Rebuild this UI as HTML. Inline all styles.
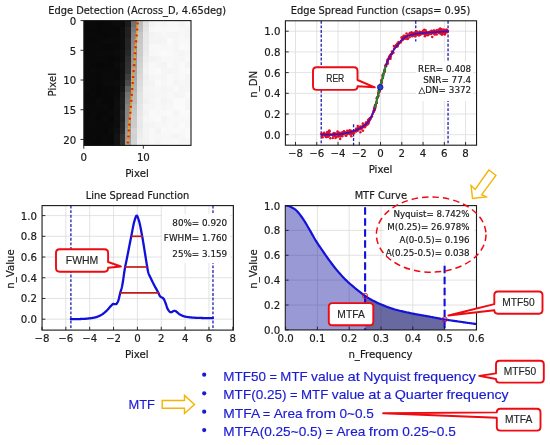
<!DOCTYPE html>
<html lang="en"><head><meta charset="utf-8"><title>MTF analysis</title>
<style>html,body{margin:0;padding:0;background:#fff;}svg{display:block;filter:blur(.35px)}.dj{font-family:'DejaVu Sans','Liberation Sans',sans-serif;fill:#1a1a1a;stroke:#1a1a1a;stroke-width:.18px}.ls{font-family:'Liberation Sans','DejaVu Sans',sans-serif}.bl{stroke:#1a1ad2;stroke-width:.15px}.cl{stroke:#262626;stroke-width:.15px}</style>
</head><body>
<svg width="550" height="445" viewBox="0 0 550 445">
<rect x="0" y="0" width="550" height="445" fill="#ffffff"/>
<g shape-rendering="crispEdges">
<rect x="83.8" y="20.6" width="107.2" height="124.8" fill="#101010"/>
<rect x="83.8" y="20.6" width="6.26" height="6.24" fill="#090909"/>
<rect x="89.76" y="20.6" width="6.26" height="6.24" fill="#090909"/>
<rect x="95.71" y="20.6" width="6.26" height="6.24" fill="#080808"/>
<rect x="101.67" y="20.6" width="6.26" height="6.24" fill="#090909"/>
<rect x="107.62" y="20.6" width="6.26" height="6.24" fill="#0a0a0a"/>
<rect x="113.58" y="20.6" width="6.26" height="6.24" fill="#0b0b0b"/>
<rect x="119.53" y="20.6" width="6.26" height="6.24" fill="#0b0b0b"/>
<rect x="125.49" y="20.6" width="6.26" height="6.24" fill="#1b1b1b"/>
<rect x="131.44" y="20.6" width="6.26" height="6.24" fill="#717171"/>
<rect x="137.4" y="20.6" width="6.26" height="6.24" fill="#bbbbbb"/>
<rect x="143.36" y="20.6" width="6.26" height="6.24" fill="#e0e0e0"/>
<rect x="149.31" y="20.6" width="6.26" height="6.24" fill="#f3f3f3"/>
<rect x="155.27" y="20.6" width="6.26" height="6.24" fill="#f7f7f7"/>
<rect x="161.22" y="20.6" width="6.26" height="6.24" fill="#f5f5f5"/>
<rect x="167.18" y="20.6" width="6.26" height="6.24" fill="#f8f8f8"/>
<rect x="173.13" y="20.6" width="6.26" height="6.24" fill="#f8f8f8"/>
<rect x="179.09" y="20.6" width="6.26" height="6.24" fill="#f4f4f4"/>
<rect x="185.04" y="20.6" width="6.26" height="6.24" fill="#f8f8f8"/>
<rect x="83.8" y="26.54" width="6.26" height="6.24" fill="#080808"/>
<rect x="89.76" y="26.54" width="6.26" height="6.24" fill="#080808"/>
<rect x="95.71" y="26.54" width="6.26" height="6.24" fill="#080808"/>
<rect x="101.67" y="26.54" width="6.26" height="6.24" fill="#090909"/>
<rect x="107.62" y="26.54" width="6.26" height="6.24" fill="#090909"/>
<rect x="113.58" y="26.54" width="6.26" height="6.24" fill="#080808"/>
<rect x="119.53" y="26.54" width="6.26" height="6.24" fill="#0d0d0d"/>
<rect x="125.49" y="26.54" width="6.26" height="6.24" fill="#212121"/>
<rect x="131.44" y="26.54" width="6.26" height="6.24" fill="#7b7b7b"/>
<rect x="137.4" y="26.54" width="6.26" height="6.24" fill="#bebebe"/>
<rect x="143.36" y="26.54" width="6.26" height="6.24" fill="#e4e4e4"/>
<rect x="149.31" y="26.54" width="6.26" height="6.24" fill="#f7f7f7"/>
<rect x="155.27" y="26.54" width="6.26" height="6.24" fill="#f9f9f9"/>
<rect x="161.22" y="26.54" width="6.26" height="6.24" fill="#f8f8f8"/>
<rect x="167.18" y="26.54" width="6.26" height="6.24" fill="#f9f9f9"/>
<rect x="173.13" y="26.54" width="6.26" height="6.24" fill="#f9f9f9"/>
<rect x="179.09" y="26.54" width="6.26" height="6.24" fill="#f7f7f7"/>
<rect x="185.04" y="26.54" width="6.26" height="6.24" fill="#f5f5f5"/>
<rect x="83.8" y="32.49" width="6.26" height="6.24" fill="#090909"/>
<rect x="89.76" y="32.49" width="6.26" height="6.24" fill="#090909"/>
<rect x="95.71" y="32.49" width="6.26" height="6.24" fill="#080808"/>
<rect x="101.67" y="32.49" width="6.26" height="6.24" fill="#080808"/>
<rect x="107.62" y="32.49" width="6.26" height="6.24" fill="#090909"/>
<rect x="113.58" y="32.49" width="6.26" height="6.24" fill="#090909"/>
<rect x="119.53" y="32.49" width="6.26" height="6.24" fill="#0d0d0d"/>
<rect x="125.49" y="32.49" width="6.26" height="6.24" fill="#202020"/>
<rect x="131.44" y="32.49" width="6.26" height="6.24" fill="#838383"/>
<rect x="137.4" y="32.49" width="6.26" height="6.24" fill="#c6c6c6"/>
<rect x="143.36" y="32.49" width="6.26" height="6.24" fill="#e7e7e7"/>
<rect x="149.31" y="32.49" width="6.26" height="6.24" fill="#f3f3f3"/>
<rect x="155.27" y="32.49" width="6.26" height="6.24" fill="#f5f5f5"/>
<rect x="161.22" y="32.49" width="6.26" height="6.24" fill="#f7f7f7"/>
<rect x="167.18" y="32.49" width="6.26" height="6.24" fill="#f5f5f5"/>
<rect x="173.13" y="32.49" width="6.26" height="6.24" fill="#f5f5f5"/>
<rect x="179.09" y="32.49" width="6.26" height="6.24" fill="#f7f7f7"/>
<rect x="185.04" y="32.49" width="6.26" height="6.24" fill="#f5f5f5"/>
<rect x="83.8" y="38.43" width="6.26" height="6.24" fill="#080808"/>
<rect x="89.76" y="38.43" width="6.26" height="6.24" fill="#080808"/>
<rect x="95.71" y="38.43" width="6.26" height="6.24" fill="#090909"/>
<rect x="101.67" y="38.43" width="6.26" height="6.24" fill="#0a0a0a"/>
<rect x="107.62" y="38.43" width="6.26" height="6.24" fill="#0a0a0a"/>
<rect x="113.58" y="38.43" width="6.26" height="6.24" fill="#0a0a0a"/>
<rect x="119.53" y="38.43" width="6.26" height="6.24" fill="#0d0d0d"/>
<rect x="125.49" y="38.43" width="6.26" height="6.24" fill="#252525"/>
<rect x="131.44" y="38.43" width="6.26" height="6.24" fill="#888888"/>
<rect x="137.4" y="38.43" width="6.26" height="6.24" fill="#c8c8c8"/>
<rect x="143.36" y="38.43" width="6.26" height="6.24" fill="#e8e8e8"/>
<rect x="149.31" y="38.43" width="6.26" height="6.24" fill="#f4f4f4"/>
<rect x="155.27" y="38.43" width="6.26" height="6.24" fill="#f4f4f4"/>
<rect x="161.22" y="38.43" width="6.26" height="6.24" fill="#f5f5f5"/>
<rect x="167.18" y="38.43" width="6.26" height="6.24" fill="#fafafa"/>
<rect x="173.13" y="38.43" width="6.26" height="6.24" fill="#f6f6f6"/>
<rect x="179.09" y="38.43" width="6.26" height="6.24" fill="#f8f8f8"/>
<rect x="185.04" y="38.43" width="6.26" height="6.24" fill="#f8f8f8"/>
<rect x="83.8" y="44.37" width="6.26" height="6.24" fill="#090909"/>
<rect x="89.76" y="44.37" width="6.26" height="6.24" fill="#090909"/>
<rect x="95.71" y="44.37" width="6.26" height="6.24" fill="#090909"/>
<rect x="101.67" y="44.37" width="6.26" height="6.24" fill="#080808"/>
<rect x="107.62" y="44.37" width="6.26" height="6.24" fill="#080808"/>
<rect x="113.58" y="44.37" width="6.26" height="6.24" fill="#090909"/>
<rect x="119.53" y="44.37" width="6.26" height="6.24" fill="#0d0d0d"/>
<rect x="125.49" y="44.37" width="6.26" height="6.24" fill="#242424"/>
<rect x="131.44" y="44.37" width="6.26" height="6.24" fill="#8c8c8c"/>
<rect x="137.4" y="44.37" width="6.26" height="6.24" fill="#cbcbcb"/>
<rect x="143.36" y="44.37" width="6.26" height="6.24" fill="#e9e9e9"/>
<rect x="149.31" y="44.37" width="6.26" height="6.24" fill="#f8f8f8"/>
<rect x="155.27" y="44.37" width="6.26" height="6.24" fill="#f8f8f8"/>
<rect x="161.22" y="44.37" width="6.26" height="6.24" fill="#f7f7f7"/>
<rect x="167.18" y="44.37" width="6.26" height="6.24" fill="#f8f8f8"/>
<rect x="173.13" y="44.37" width="6.26" height="6.24" fill="#f6f6f6"/>
<rect x="179.09" y="44.37" width="6.26" height="6.24" fill="#fafafa"/>
<rect x="185.04" y="44.37" width="6.26" height="6.24" fill="#f9f9f9"/>
<rect x="83.8" y="50.31" width="6.26" height="6.24" fill="#090909"/>
<rect x="89.76" y="50.31" width="6.26" height="6.24" fill="#090909"/>
<rect x="95.71" y="50.31" width="6.26" height="6.24" fill="#0a0a0a"/>
<rect x="101.67" y="50.31" width="6.26" height="6.24" fill="#0a0a0a"/>
<rect x="107.62" y="50.31" width="6.26" height="6.24" fill="#0a0a0a"/>
<rect x="113.58" y="50.31" width="6.26" height="6.24" fill="#0b0b0b"/>
<rect x="119.53" y="50.31" width="6.26" height="6.24" fill="#0f0f0f"/>
<rect x="125.49" y="50.31" width="6.26" height="6.24" fill="#282828"/>
<rect x="131.44" y="50.31" width="6.26" height="6.24" fill="#949494"/>
<rect x="137.4" y="50.31" width="6.26" height="6.24" fill="#cccccc"/>
<rect x="143.36" y="50.31" width="6.26" height="6.24" fill="#ebebeb"/>
<rect x="149.31" y="50.31" width="6.26" height="6.24" fill="#f7f7f7"/>
<rect x="155.27" y="50.31" width="6.26" height="6.24" fill="#f8f8f8"/>
<rect x="161.22" y="50.31" width="6.26" height="6.24" fill="#fafafa"/>
<rect x="167.18" y="50.31" width="6.26" height="6.24" fill="#f9f9f9"/>
<rect x="173.13" y="50.31" width="6.26" height="6.24" fill="#f7f7f7"/>
<rect x="179.09" y="50.31" width="6.26" height="6.24" fill="#f5f5f5"/>
<rect x="185.04" y="50.31" width="6.26" height="6.24" fill="#f7f7f7"/>
<rect x="83.8" y="56.26" width="6.26" height="6.24" fill="#0a0a0a"/>
<rect x="89.76" y="56.26" width="6.26" height="6.24" fill="#090909"/>
<rect x="95.71" y="56.26" width="6.26" height="6.24" fill="#090909"/>
<rect x="101.67" y="56.26" width="6.26" height="6.24" fill="#090909"/>
<rect x="107.62" y="56.26" width="6.26" height="6.24" fill="#080808"/>
<rect x="113.58" y="56.26" width="6.26" height="6.24" fill="#090909"/>
<rect x="119.53" y="56.26" width="6.26" height="6.24" fill="#0e0e0e"/>
<rect x="125.49" y="56.26" width="6.26" height="6.24" fill="#2e2e2e"/>
<rect x="131.44" y="56.26" width="6.26" height="6.24" fill="#999999"/>
<rect x="137.4" y="56.26" width="6.26" height="6.24" fill="#cfcfcf"/>
<rect x="143.36" y="56.26" width="6.26" height="6.24" fill="#eeeeee"/>
<rect x="149.31" y="56.26" width="6.26" height="6.24" fill="#f3f3f3"/>
<rect x="155.27" y="56.26" width="6.26" height="6.24" fill="#f5f5f5"/>
<rect x="161.22" y="56.26" width="6.26" height="6.24" fill="#f8f8f8"/>
<rect x="167.18" y="56.26" width="6.26" height="6.24" fill="#f8f8f8"/>
<rect x="173.13" y="56.26" width="6.26" height="6.24" fill="#f7f7f7"/>
<rect x="179.09" y="56.26" width="6.26" height="6.24" fill="#f6f6f6"/>
<rect x="185.04" y="56.26" width="6.26" height="6.24" fill="#f8f8f8"/>
<rect x="83.8" y="62.2" width="6.26" height="6.24" fill="#0a0a0a"/>
<rect x="89.76" y="62.2" width="6.26" height="6.24" fill="#080808"/>
<rect x="95.71" y="62.2" width="6.26" height="6.24" fill="#070707"/>
<rect x="101.67" y="62.2" width="6.26" height="6.24" fill="#080808"/>
<rect x="107.62" y="62.2" width="6.26" height="6.24" fill="#080808"/>
<rect x="113.58" y="62.2" width="6.26" height="6.24" fill="#0b0b0b"/>
<rect x="119.53" y="62.2" width="6.26" height="6.24" fill="#111111"/>
<rect x="125.49" y="62.2" width="6.26" height="6.24" fill="#313131"/>
<rect x="131.44" y="62.2" width="6.26" height="6.24" fill="#9b9b9b"/>
<rect x="137.4" y="62.2" width="6.26" height="6.24" fill="#d3d3d3"/>
<rect x="143.36" y="62.2" width="6.26" height="6.24" fill="#f1f1f1"/>
<rect x="149.31" y="62.2" width="6.26" height="6.24" fill="#f8f8f8"/>
<rect x="155.27" y="62.2" width="6.26" height="6.24" fill="#f6f6f6"/>
<rect x="161.22" y="62.2" width="6.26" height="6.24" fill="#f4f4f4"/>
<rect x="167.18" y="62.2" width="6.26" height="6.24" fill="#f9f9f9"/>
<rect x="173.13" y="62.2" width="6.26" height="6.24" fill="#f6f6f6"/>
<rect x="179.09" y="62.2" width="6.26" height="6.24" fill="#f9f9f9"/>
<rect x="185.04" y="62.2" width="6.26" height="6.24" fill="#f5f5f5"/>
<rect x="83.8" y="68.14" width="6.26" height="6.24" fill="#090909"/>
<rect x="89.76" y="68.14" width="6.26" height="6.24" fill="#0a0a0a"/>
<rect x="95.71" y="68.14" width="6.26" height="6.24" fill="#090909"/>
<rect x="101.67" y="68.14" width="6.26" height="6.24" fill="#090909"/>
<rect x="107.62" y="68.14" width="6.26" height="6.24" fill="#0a0a0a"/>
<rect x="113.58" y="68.14" width="6.26" height="6.24" fill="#090909"/>
<rect x="119.53" y="68.14" width="6.26" height="6.24" fill="#101010"/>
<rect x="125.49" y="68.14" width="6.26" height="6.24" fill="#343434"/>
<rect x="131.44" y="68.14" width="6.26" height="6.24" fill="#a4a4a4"/>
<rect x="137.4" y="68.14" width="6.26" height="6.24" fill="#d5d5d5"/>
<rect x="143.36" y="68.14" width="6.26" height="6.24" fill="#f3f3f3"/>
<rect x="149.31" y="68.14" width="6.26" height="6.24" fill="#f8f8f8"/>
<rect x="155.27" y="68.14" width="6.26" height="6.24" fill="#fafafa"/>
<rect x="161.22" y="68.14" width="6.26" height="6.24" fill="#f6f6f6"/>
<rect x="167.18" y="68.14" width="6.26" height="6.24" fill="#f5f5f5"/>
<rect x="173.13" y="68.14" width="6.26" height="6.24" fill="#f6f6f6"/>
<rect x="179.09" y="68.14" width="6.26" height="6.24" fill="#f9f9f9"/>
<rect x="185.04" y="68.14" width="6.26" height="6.24" fill="#fafafa"/>
<rect x="83.8" y="74.09" width="6.26" height="6.24" fill="#090909"/>
<rect x="89.76" y="74.09" width="6.26" height="6.24" fill="#090909"/>
<rect x="95.71" y="74.09" width="6.26" height="6.24" fill="#080808"/>
<rect x="101.67" y="74.09" width="6.26" height="6.24" fill="#0a0a0a"/>
<rect x="107.62" y="74.09" width="6.26" height="6.24" fill="#0a0a0a"/>
<rect x="113.58" y="74.09" width="6.26" height="6.24" fill="#090909"/>
<rect x="119.53" y="74.09" width="6.26" height="6.24" fill="#111111"/>
<rect x="125.49" y="74.09" width="6.26" height="6.24" fill="#3f3f3f"/>
<rect x="131.44" y="74.09" width="6.26" height="6.24" fill="#a8a8a8"/>
<rect x="137.4" y="74.09" width="6.26" height="6.24" fill="#d9d9d9"/>
<rect x="143.36" y="74.09" width="6.26" height="6.24" fill="#f0f0f0"/>
<rect x="149.31" y="74.09" width="6.26" height="6.24" fill="#f6f6f6"/>
<rect x="155.27" y="74.09" width="6.26" height="6.24" fill="#f7f7f7"/>
<rect x="161.22" y="74.09" width="6.26" height="6.24" fill="#f5f5f5"/>
<rect x="167.18" y="74.09" width="6.26" height="6.24" fill="#f9f9f9"/>
<rect x="173.13" y="74.09" width="6.26" height="6.24" fill="#f7f7f7"/>
<rect x="179.09" y="74.09" width="6.26" height="6.24" fill="#f9f9f9"/>
<rect x="185.04" y="74.09" width="6.26" height="6.24" fill="#f6f6f6"/>
<rect x="83.8" y="80.03" width="6.26" height="6.24" fill="#0a0a0a"/>
<rect x="89.76" y="80.03" width="6.26" height="6.24" fill="#090909"/>
<rect x="95.71" y="80.03" width="6.26" height="6.24" fill="#080808"/>
<rect x="101.67" y="80.03" width="6.26" height="6.24" fill="#0a0a0a"/>
<rect x="107.62" y="80.03" width="6.26" height="6.24" fill="#0a0a0a"/>
<rect x="113.58" y="80.03" width="6.26" height="6.24" fill="#0c0c0c"/>
<rect x="119.53" y="80.03" width="6.26" height="6.24" fill="#131313"/>
<rect x="125.49" y="80.03" width="6.26" height="6.24" fill="#4b4b4b"/>
<rect x="131.44" y="80.03" width="6.26" height="6.24" fill="#aeaeae"/>
<rect x="137.4" y="80.03" width="6.26" height="6.24" fill="#dcdcdc"/>
<rect x="143.36" y="80.03" width="6.26" height="6.24" fill="#f2f2f2"/>
<rect x="149.31" y="80.03" width="6.26" height="6.24" fill="#f4f4f4"/>
<rect x="155.27" y="80.03" width="6.26" height="6.24" fill="#fafafa"/>
<rect x="161.22" y="80.03" width="6.26" height="6.24" fill="#f7f7f7"/>
<rect x="167.18" y="80.03" width="6.26" height="6.24" fill="#f9f9f9"/>
<rect x="173.13" y="80.03" width="6.26" height="6.24" fill="#f5f5f5"/>
<rect x="179.09" y="80.03" width="6.26" height="6.24" fill="#f7f7f7"/>
<rect x="185.04" y="80.03" width="6.26" height="6.24" fill="#f5f5f5"/>
<rect x="83.8" y="85.97" width="6.26" height="6.24" fill="#0a0a0a"/>
<rect x="89.76" y="85.97" width="6.26" height="6.24" fill="#080808"/>
<rect x="95.71" y="85.97" width="6.26" height="6.24" fill="#070707"/>
<rect x="101.67" y="85.97" width="6.26" height="6.24" fill="#080808"/>
<rect x="107.62" y="85.97" width="6.26" height="6.24" fill="#090909"/>
<rect x="113.58" y="85.97" width="6.26" height="6.24" fill="#0a0a0a"/>
<rect x="119.53" y="85.97" width="6.26" height="6.24" fill="#171717"/>
<rect x="125.49" y="85.97" width="6.26" height="6.24" fill="#626262"/>
<rect x="131.44" y="85.97" width="6.26" height="6.24" fill="#b3b3b3"/>
<rect x="137.4" y="85.97" width="6.26" height="6.24" fill="#e0e0e0"/>
<rect x="143.36" y="85.97" width="6.26" height="6.24" fill="#f4f4f4"/>
<rect x="149.31" y="85.97" width="6.26" height="6.24" fill="#f6f6f6"/>
<rect x="155.27" y="85.97" width="6.26" height="6.24" fill="#f7f7f7"/>
<rect x="161.22" y="85.97" width="6.26" height="6.24" fill="#f5f5f5"/>
<rect x="167.18" y="85.97" width="6.26" height="6.24" fill="#f6f6f6"/>
<rect x="173.13" y="85.97" width="6.26" height="6.24" fill="#f9f9f9"/>
<rect x="179.09" y="85.97" width="6.26" height="6.24" fill="#f5f5f5"/>
<rect x="185.04" y="85.97" width="6.26" height="6.24" fill="#f6f6f6"/>
<rect x="83.8" y="91.91" width="6.26" height="6.24" fill="#080808"/>
<rect x="89.76" y="91.91" width="6.26" height="6.24" fill="#090909"/>
<rect x="95.71" y="91.91" width="6.26" height="6.24" fill="#070707"/>
<rect x="101.67" y="91.91" width="6.26" height="6.24" fill="#080808"/>
<rect x="107.62" y="91.91" width="6.26" height="6.24" fill="#090909"/>
<rect x="113.58" y="91.91" width="6.26" height="6.24" fill="#0b0b0b"/>
<rect x="119.53" y="91.91" width="6.26" height="6.24" fill="#1d1d1d"/>
<rect x="125.49" y="91.91" width="6.26" height="6.24" fill="#737373"/>
<rect x="131.44" y="91.91" width="6.26" height="6.24" fill="#bababa"/>
<rect x="137.4" y="91.91" width="6.26" height="6.24" fill="#e3e3e3"/>
<rect x="143.36" y="91.91" width="6.26" height="6.24" fill="#f3f3f3"/>
<rect x="149.31" y="91.91" width="6.26" height="6.24" fill="#f4f4f4"/>
<rect x="155.27" y="91.91" width="6.26" height="6.24" fill="#f6f6f6"/>
<rect x="161.22" y="91.91" width="6.26" height="6.24" fill="#f6f6f6"/>
<rect x="167.18" y="91.91" width="6.26" height="6.24" fill="#f8f8f8"/>
<rect x="173.13" y="91.91" width="6.26" height="6.24" fill="#f5f5f5"/>
<rect x="179.09" y="91.91" width="6.26" height="6.24" fill="#f6f6f6"/>
<rect x="185.04" y="91.91" width="6.26" height="6.24" fill="#f9f9f9"/>
<rect x="83.8" y="97.86" width="6.26" height="6.24" fill="#080808"/>
<rect x="89.76" y="97.86" width="6.26" height="6.24" fill="#080808"/>
<rect x="95.71" y="97.86" width="6.26" height="6.24" fill="#0a0a0a"/>
<rect x="101.67" y="97.86" width="6.26" height="6.24" fill="#080808"/>
<rect x="107.62" y="97.86" width="6.26" height="6.24" fill="#080808"/>
<rect x="113.58" y="97.86" width="6.26" height="6.24" fill="#0d0d0d"/>
<rect x="119.53" y="97.86" width="6.26" height="6.24" fill="#1f1f1f"/>
<rect x="125.49" y="97.86" width="6.26" height="6.24" fill="#7a7a7a"/>
<rect x="131.44" y="97.86" width="6.26" height="6.24" fill="#bbbbbb"/>
<rect x="137.4" y="97.86" width="6.26" height="6.24" fill="#e4e4e4"/>
<rect x="143.36" y="97.86" width="6.26" height="6.24" fill="#f1f1f1"/>
<rect x="149.31" y="97.86" width="6.26" height="6.24" fill="#f5f5f5"/>
<rect x="155.27" y="97.86" width="6.26" height="6.24" fill="#f8f8f8"/>
<rect x="161.22" y="97.86" width="6.26" height="6.24" fill="#f4f4f4"/>
<rect x="167.18" y="97.86" width="6.26" height="6.24" fill="#f6f6f6"/>
<rect x="173.13" y="97.86" width="6.26" height="6.24" fill="#fafafa"/>
<rect x="179.09" y="97.86" width="6.26" height="6.24" fill="#fafafa"/>
<rect x="185.04" y="97.86" width="6.26" height="6.24" fill="#f7f7f7"/>
<rect x="83.8" y="103.8" width="6.26" height="6.24" fill="#090909"/>
<rect x="89.76" y="103.8" width="6.26" height="6.24" fill="#090909"/>
<rect x="95.71" y="103.8" width="6.26" height="6.24" fill="#090909"/>
<rect x="101.67" y="103.8" width="6.26" height="6.24" fill="#0a0a0a"/>
<rect x="107.62" y="103.8" width="6.26" height="6.24" fill="#080808"/>
<rect x="113.58" y="103.8" width="6.26" height="6.24" fill="#0e0e0e"/>
<rect x="119.53" y="103.8" width="6.26" height="6.24" fill="#1e1e1e"/>
<rect x="125.49" y="103.8" width="6.26" height="6.24" fill="#838383"/>
<rect x="131.44" y="103.8" width="6.26" height="6.24" fill="#c3c3c3"/>
<rect x="137.4" y="103.8" width="6.26" height="6.24" fill="#e6e6e6"/>
<rect x="143.36" y="103.8" width="6.26" height="6.24" fill="#f5f5f5"/>
<rect x="149.31" y="103.8" width="6.26" height="6.24" fill="#f6f6f6"/>
<rect x="155.27" y="103.8" width="6.26" height="6.24" fill="#f8f8f8"/>
<rect x="161.22" y="103.8" width="6.26" height="6.24" fill="#f5f5f5"/>
<rect x="167.18" y="103.8" width="6.26" height="6.24" fill="#f7f7f7"/>
<rect x="173.13" y="103.8" width="6.26" height="6.24" fill="#fafafa"/>
<rect x="179.09" y="103.8" width="6.26" height="6.24" fill="#fafafa"/>
<rect x="185.04" y="103.8" width="6.26" height="6.24" fill="#f6f6f6"/>
<rect x="83.8" y="109.74" width="6.26" height="6.24" fill="#080808"/>
<rect x="89.76" y="109.74" width="6.26" height="6.24" fill="#0a0a0a"/>
<rect x="95.71" y="109.74" width="6.26" height="6.24" fill="#080808"/>
<rect x="101.67" y="109.74" width="6.26" height="6.24" fill="#080808"/>
<rect x="107.62" y="109.74" width="6.26" height="6.24" fill="#0a0a0a"/>
<rect x="113.58" y="109.74" width="6.26" height="6.24" fill="#0d0d0d"/>
<rect x="119.53" y="109.74" width="6.26" height="6.24" fill="#252525"/>
<rect x="125.49" y="109.74" width="6.26" height="6.24" fill="#878787"/>
<rect x="131.44" y="109.74" width="6.26" height="6.24" fill="#c6c6c6"/>
<rect x="137.4" y="109.74" width="6.26" height="6.24" fill="#e8e8e8"/>
<rect x="143.36" y="109.74" width="6.26" height="6.24" fill="#f3f3f3"/>
<rect x="149.31" y="109.74" width="6.26" height="6.24" fill="#f9f9f9"/>
<rect x="155.27" y="109.74" width="6.26" height="6.24" fill="#f8f8f8"/>
<rect x="161.22" y="109.74" width="6.26" height="6.24" fill="#f9f9f9"/>
<rect x="167.18" y="109.74" width="6.26" height="6.24" fill="#fafafa"/>
<rect x="173.13" y="109.74" width="6.26" height="6.24" fill="#f6f6f6"/>
<rect x="179.09" y="109.74" width="6.26" height="6.24" fill="#fafafa"/>
<rect x="185.04" y="109.74" width="6.26" height="6.24" fill="#fafafa"/>
<rect x="83.8" y="115.69" width="6.26" height="6.24" fill="#090909"/>
<rect x="89.76" y="115.69" width="6.26" height="6.24" fill="#090909"/>
<rect x="95.71" y="115.69" width="6.26" height="6.24" fill="#080808"/>
<rect x="101.67" y="115.69" width="6.26" height="6.24" fill="#0a0a0a"/>
<rect x="107.62" y="115.69" width="6.26" height="6.24" fill="#080808"/>
<rect x="113.58" y="115.69" width="6.26" height="6.24" fill="#0e0e0e"/>
<rect x="119.53" y="115.69" width="6.26" height="6.24" fill="#232323"/>
<rect x="125.49" y="115.69" width="6.26" height="6.24" fill="#8a8a8a"/>
<rect x="131.44" y="115.69" width="6.26" height="6.24" fill="#cacaca"/>
<rect x="137.4" y="115.69" width="6.26" height="6.24" fill="#eaeaea"/>
<rect x="143.36" y="115.69" width="6.26" height="6.24" fill="#f6f6f6"/>
<rect x="149.31" y="115.69" width="6.26" height="6.24" fill="#f8f8f8"/>
<rect x="155.27" y="115.69" width="6.26" height="6.24" fill="#fafafa"/>
<rect x="161.22" y="115.69" width="6.26" height="6.24" fill="#f5f5f5"/>
<rect x="167.18" y="115.69" width="6.26" height="6.24" fill="#f8f8f8"/>
<rect x="173.13" y="115.69" width="6.26" height="6.24" fill="#f8f8f8"/>
<rect x="179.09" y="115.69" width="6.26" height="6.24" fill="#f8f8f8"/>
<rect x="185.04" y="115.69" width="6.26" height="6.24" fill="#f8f8f8"/>
<rect x="83.8" y="121.63" width="6.26" height="6.24" fill="#090909"/>
<rect x="89.76" y="121.63" width="6.26" height="6.24" fill="#0a0a0a"/>
<rect x="95.71" y="121.63" width="6.26" height="6.24" fill="#090909"/>
<rect x="101.67" y="121.63" width="6.26" height="6.24" fill="#090909"/>
<rect x="107.62" y="121.63" width="6.26" height="6.24" fill="#0a0a0a"/>
<rect x="113.58" y="121.63" width="6.26" height="6.24" fill="#0d0d0d"/>
<rect x="119.53" y="121.63" width="6.26" height="6.24" fill="#272727"/>
<rect x="125.49" y="121.63" width="6.26" height="6.24" fill="#8f8f8f"/>
<rect x="131.44" y="121.63" width="6.26" height="6.24" fill="#cbcbcb"/>
<rect x="137.4" y="121.63" width="6.26" height="6.24" fill="#e9e9e9"/>
<rect x="143.36" y="121.63" width="6.26" height="6.24" fill="#f4f4f4"/>
<rect x="149.31" y="121.63" width="6.26" height="6.24" fill="#f5f5f5"/>
<rect x="155.27" y="121.63" width="6.26" height="6.24" fill="#f7f7f7"/>
<rect x="161.22" y="121.63" width="6.26" height="6.24" fill="#f7f7f7"/>
<rect x="167.18" y="121.63" width="6.26" height="6.24" fill="#f9f9f9"/>
<rect x="173.13" y="121.63" width="6.26" height="6.24" fill="#f7f7f7"/>
<rect x="179.09" y="121.63" width="6.26" height="6.24" fill="#fafafa"/>
<rect x="185.04" y="121.63" width="6.26" height="6.24" fill="#f7f7f7"/>
<rect x="83.8" y="127.57" width="6.26" height="6.24" fill="#090909"/>
<rect x="89.76" y="127.57" width="6.26" height="6.24" fill="#090909"/>
<rect x="95.71" y="127.57" width="6.26" height="6.24" fill="#090909"/>
<rect x="101.67" y="127.57" width="6.26" height="6.24" fill="#080808"/>
<rect x="107.62" y="127.57" width="6.26" height="6.24" fill="#0b0b0b"/>
<rect x="113.58" y="127.57" width="6.26" height="6.24" fill="#101010"/>
<rect x="119.53" y="127.57" width="6.26" height="6.24" fill="#282828"/>
<rect x="125.49" y="127.57" width="6.26" height="6.24" fill="#979797"/>
<rect x="131.44" y="127.57" width="6.26" height="6.24" fill="#d3d3d3"/>
<rect x="137.4" y="127.57" width="6.26" height="6.24" fill="#ebebeb"/>
<rect x="143.36" y="127.57" width="6.26" height="6.24" fill="#f4f4f4"/>
<rect x="149.31" y="127.57" width="6.26" height="6.24" fill="#f8f8f8"/>
<rect x="155.27" y="127.57" width="6.26" height="6.24" fill="#f4f4f4"/>
<rect x="161.22" y="127.57" width="6.26" height="6.24" fill="#f9f9f9"/>
<rect x="167.18" y="127.57" width="6.26" height="6.24" fill="#f8f8f8"/>
<rect x="173.13" y="127.57" width="6.26" height="6.24" fill="#f9f9f9"/>
<rect x="179.09" y="127.57" width="6.26" height="6.24" fill="#f8f8f8"/>
<rect x="185.04" y="127.57" width="6.26" height="6.24" fill="#fafafa"/>
<rect x="83.8" y="133.51" width="6.26" height="6.24" fill="#080808"/>
<rect x="89.76" y="133.51" width="6.26" height="6.24" fill="#090909"/>
<rect x="95.71" y="133.51" width="6.26" height="6.24" fill="#080808"/>
<rect x="101.67" y="133.51" width="6.26" height="6.24" fill="#090909"/>
<rect x="107.62" y="133.51" width="6.26" height="6.24" fill="#090909"/>
<rect x="113.58" y="133.51" width="6.26" height="6.24" fill="#131313"/>
<rect x="119.53" y="133.51" width="6.26" height="6.24" fill="#313131"/>
<rect x="125.49" y="133.51" width="6.26" height="6.24" fill="#999999"/>
<rect x="131.44" y="133.51" width="6.26" height="6.24" fill="#d1d1d1"/>
<rect x="137.4" y="133.51" width="6.26" height="6.24" fill="#ededed"/>
<rect x="143.36" y="133.51" width="6.26" height="6.24" fill="#f4f4f4"/>
<rect x="149.31" y="133.51" width="6.26" height="6.24" fill="#f8f8f8"/>
<rect x="155.27" y="133.51" width="6.26" height="6.24" fill="#f7f7f7"/>
<rect x="161.22" y="133.51" width="6.26" height="6.24" fill="#f7f7f7"/>
<rect x="167.18" y="133.51" width="6.26" height="6.24" fill="#f7f7f7"/>
<rect x="173.13" y="133.51" width="6.26" height="6.24" fill="#f4f4f4"/>
<rect x="179.09" y="133.51" width="6.26" height="6.24" fill="#f7f7f7"/>
<rect x="185.04" y="133.51" width="6.26" height="6.24" fill="#fafafa"/>
<rect x="83.8" y="139.46" width="6.26" height="6.24" fill="#0a0a0a"/>
<rect x="89.76" y="139.46" width="6.26" height="6.24" fill="#090909"/>
<rect x="95.71" y="139.46" width="6.26" height="6.24" fill="#080808"/>
<rect x="101.67" y="139.46" width="6.26" height="6.24" fill="#0a0a0a"/>
<rect x="107.62" y="139.46" width="6.26" height="6.24" fill="#090909"/>
<rect x="113.58" y="139.46" width="6.26" height="6.24" fill="#121212"/>
<rect x="119.53" y="139.46" width="6.26" height="6.24" fill="#313131"/>
<rect x="125.49" y="139.46" width="6.26" height="6.24" fill="#9f9f9f"/>
<rect x="131.44" y="139.46" width="6.26" height="6.24" fill="#d5d5d5"/>
<rect x="137.4" y="139.46" width="6.26" height="6.24" fill="#f0f0f0"/>
<rect x="143.36" y="139.46" width="6.26" height="6.24" fill="#f3f3f3"/>
<rect x="149.31" y="139.46" width="6.26" height="6.24" fill="#f8f8f8"/>
<rect x="155.27" y="139.46" width="6.26" height="6.24" fill="#f5f5f5"/>
<rect x="161.22" y="139.46" width="6.26" height="6.24" fill="#f8f8f8"/>
<rect x="167.18" y="139.46" width="6.26" height="6.24" fill="#f8f8f8"/>
<rect x="173.13" y="139.46" width="6.26" height="6.24" fill="#f9f9f9"/>
<rect x="179.09" y="139.46" width="6.26" height="6.24" fill="#f6f6f6"/>
<rect x="185.04" y="139.46" width="6.26" height="6.24" fill="#f6f6f6"/>
</g>
<line x1="137.76" y1="20.6" x2="127.63" y2="145.4" stroke="#e0a030" stroke-width="1.7"/>
<line x1="137.76" y1="20.6" x2="127.63" y2="145.4" stroke="#d4d840" stroke-width="1.7" stroke-dasharray="3.4 2.55" stroke-dashoffset="-1.3"/>
<circle cx="137.52" cy="23.57" r="1.3" fill="#e02818"/>
<circle cx="137.03" cy="29.51" r="1.3" fill="#e02818"/>
<circle cx="136.55" cy="35.46" r="1.3" fill="#e02818"/>
<circle cx="136.07" cy="41.4" r="1.3" fill="#e02818"/>
<circle cx="135.59" cy="47.34" r="1.3" fill="#e02818"/>
<circle cx="135.11" cy="53.29" r="1.3" fill="#e02818"/>
<circle cx="134.62" cy="59.23" r="1.3" fill="#e02818"/>
<circle cx="134.14" cy="65.17" r="1.3" fill="#e02818"/>
<circle cx="133.66" cy="71.11" r="1.3" fill="#e02818"/>
<circle cx="133.18" cy="77.06" r="1.3" fill="#e02818"/>
<circle cx="132.7" cy="83" r="1.3" fill="#e02818"/>
<circle cx="132.21" cy="88.94" r="1.3" fill="#e02818"/>
<circle cx="131.73" cy="94.89" r="1.3" fill="#e02818"/>
<circle cx="131.25" cy="100.83" r="1.3" fill="#e02818"/>
<circle cx="130.77" cy="106.77" r="1.3" fill="#e02818"/>
<circle cx="130.28" cy="112.71" r="1.3" fill="#e02818"/>
<circle cx="129.8" cy="118.66" r="1.3" fill="#e02818"/>
<circle cx="129.32" cy="124.6" r="1.3" fill="#e02818"/>
<circle cx="128.84" cy="130.54" r="1.3" fill="#e02818"/>
<circle cx="128.36" cy="136.49" r="1.3" fill="#e02818"/>
<circle cx="127.87" cy="142.43" r="1.3" fill="#e02818"/>
<rect x="83.8" y="20.6" width="107.2" height="124.8" fill="none" stroke="#1a1a1a" stroke-width="1.1"/>
<line x1="80.5" y1="20.6" x2="83.8" y2="20.6" stroke="#1a1a1a" stroke-width="0.9"/>
<text x="76.2" y="24.8" font-size="10.2" text-anchor="end" class="dj">0</text>
<line x1="80.5" y1="50.31" x2="83.8" y2="50.31" stroke="#1a1a1a" stroke-width="0.9"/>
<text x="76.2" y="54.51" font-size="10.2" text-anchor="end" class="dj">5</text>
<line x1="80.5" y1="80.03" x2="83.8" y2="80.03" stroke="#1a1a1a" stroke-width="0.9"/>
<text x="76.2" y="84.23" font-size="10.2" text-anchor="end" class="dj">10</text>
<line x1="80.5" y1="109.74" x2="83.8" y2="109.74" stroke="#1a1a1a" stroke-width="0.9"/>
<text x="76.2" y="113.94" font-size="10.2" text-anchor="end" class="dj">15</text>
<line x1="80.5" y1="139.46" x2="83.8" y2="139.46" stroke="#1a1a1a" stroke-width="0.9"/>
<text x="76.2" y="143.66" font-size="10.2" text-anchor="end" class="dj">20</text>
<line x1="83.8" y1="145.4" x2="83.8" y2="148.7" stroke="#1a1a1a" stroke-width="0.9"/>
<text x="83.8" y="161.2" font-size="10.2" text-anchor="middle" class="dj">0</text>
<line x1="143.36" y1="145.4" x2="143.36" y2="148.7" stroke="#1a1a1a" stroke-width="0.9"/>
<text x="143.36" y="161.2" font-size="10.2" text-anchor="middle" class="dj">10</text>
<text x="137.2" y="13.7" font-size="9.85" text-anchor="middle" class="dj">Edge Detection (Across_D, 4.65deg)</text>
<text x="137" y="176.6" font-size="10.2" text-anchor="middle" class="dj">Pixel</text>
<text transform="translate(55.8 84.7) rotate(-90)" font-size="10.2" text-anchor="middle" class="dj">Pixel</text>
<rect x="285.4" y="20.8" width="191.15" height="124.4" fill="#ffffff"/>
<line x1="295.51" y1="20.8" x2="295.51" y2="145.2" stroke="#dcdcdc" stroke-width="0.8"/>
<line x1="316.77" y1="20.8" x2="316.77" y2="145.2" stroke="#dcdcdc" stroke-width="0.8"/>
<line x1="338.03" y1="20.8" x2="338.03" y2="145.2" stroke="#dcdcdc" stroke-width="0.8"/>
<line x1="359.29" y1="20.8" x2="359.29" y2="145.2" stroke="#dcdcdc" stroke-width="0.8"/>
<line x1="380.55" y1="20.8" x2="380.55" y2="145.2" stroke="#dcdcdc" stroke-width="0.8"/>
<line x1="401.81" y1="20.8" x2="401.81" y2="145.2" stroke="#dcdcdc" stroke-width="0.8"/>
<line x1="423.07" y1="20.8" x2="423.07" y2="145.2" stroke="#dcdcdc" stroke-width="0.8"/>
<line x1="444.33" y1="20.8" x2="444.33" y2="145.2" stroke="#dcdcdc" stroke-width="0.8"/>
<line x1="465.59" y1="20.8" x2="465.59" y2="145.2" stroke="#dcdcdc" stroke-width="0.8"/>
<line x1="285.4" y1="134.7" x2="476.55" y2="134.7" stroke="#dcdcdc" stroke-width="0.8"/>
<line x1="285.4" y1="114" x2="476.55" y2="114" stroke="#dcdcdc" stroke-width="0.8"/>
<line x1="285.4" y1="93.3" x2="476.55" y2="93.3" stroke="#dcdcdc" stroke-width="0.8"/>
<line x1="285.4" y1="72.6" x2="476.55" y2="72.6" stroke="#dcdcdc" stroke-width="0.8"/>
<line x1="285.4" y1="51.9" x2="476.55" y2="51.9" stroke="#dcdcdc" stroke-width="0.8"/>
<line x1="285.4" y1="31.2" x2="476.55" y2="31.2" stroke="#dcdcdc" stroke-width="0.8"/>
<line x1="321.23" y1="20.8" x2="321.23" y2="145.2" stroke="#1e1eb4" stroke-width="1.3" stroke-dasharray="2.9 1.7"/>
<line x1="448.05" y1="20.8" x2="448.05" y2="145.2" stroke="#1e1eb4" stroke-width="1.3" stroke-dasharray="2.9 1.7"/>
<line x1="415.74" y1="20.8" x2="415.74" y2="41.6" stroke="#1e1eb4" stroke-width="1.3" stroke-dasharray="2.9 1.7"/>
<line x1="353.55" y1="124.3" x2="353.55" y2="145.2" stroke="#1e1eb4" stroke-width="1.3" stroke-dasharray="2.9 1.7"/>
<g fill="#e0102a">
<circle cx="321.42" cy="133.71" r="1.25"/>
<circle cx="321.77" cy="134.36" r="1.25"/>
<circle cx="321.95" cy="136.11" r="1.25"/>
<circle cx="322.14" cy="136.5" r="1.25"/>
<circle cx="322.28" cy="133.77" r="1.25"/>
<circle cx="322.35" cy="134.78" r="1.25"/>
<circle cx="322.58" cy="137.25" r="1.25"/>
<circle cx="324.18" cy="132.87" r="1.25"/>
<circle cx="324.27" cy="133.48" r="1.25"/>
<circle cx="324.39" cy="135.06" r="1.25"/>
<circle cx="324.82" cy="135.09" r="1.25"/>
<circle cx="325.09" cy="134.32" r="1.25"/>
<circle cx="325.51" cy="135.74" r="1.25"/>
<circle cx="325.71" cy="136.77" r="1.25"/>
<circle cx="325.74" cy="134.17" r="1.25"/>
<circle cx="326.18" cy="136.9" r="1.25"/>
<circle cx="326.26" cy="134.06" r="1.25"/>
<circle cx="326.39" cy="136.9" r="1.25"/>
<circle cx="326.71" cy="134.81" r="1.25"/>
<circle cx="326.91" cy="134.87" r="1.25"/>
<circle cx="327.2" cy="131.88" r="1.25"/>
<circle cx="327.29" cy="136.3" r="1.25"/>
<circle cx="327.82" cy="136.84" r="1.25"/>
<circle cx="327.91" cy="135.64" r="1.25"/>
<circle cx="327.92" cy="136.38" r="1.25"/>
<circle cx="327.97" cy="135.55" r="1.25"/>
<circle cx="328.27" cy="133.98" r="1.25"/>
<circle cx="328.5" cy="133.43" r="1.25"/>
<circle cx="328.78" cy="132.05" r="1.25"/>
<circle cx="329.05" cy="135.76" r="1.25"/>
<circle cx="329.3" cy="130.52" r="1.25"/>
<circle cx="329.6" cy="131.53" r="1.25"/>
<circle cx="330.02" cy="134.91" r="1.25"/>
<circle cx="330.28" cy="138.15" r="1.25"/>
<circle cx="330.37" cy="134.72" r="1.25"/>
<circle cx="330.91" cy="134.46" r="1.25"/>
<circle cx="332.81" cy="138.09" r="1.25"/>
<circle cx="332.89" cy="134.41" r="1.25"/>
<circle cx="332.93" cy="134.83" r="1.25"/>
<circle cx="332.98" cy="135.74" r="1.25"/>
<circle cx="333.64" cy="133.53" r="1.25"/>
<circle cx="333.83" cy="132.93" r="1.25"/>
<circle cx="334.37" cy="135.23" r="1.25"/>
<circle cx="334.51" cy="134.12" r="1.25"/>
<circle cx="334.68" cy="135.48" r="1.25"/>
<circle cx="334.79" cy="135.69" r="1.25"/>
<circle cx="334.88" cy="134.34" r="1.25"/>
<circle cx="334.95" cy="133.65" r="1.25"/>
<circle cx="335.18" cy="135.33" r="1.25"/>
<circle cx="335.46" cy="137.88" r="1.25"/>
<circle cx="335.91" cy="133.52" r="1.25"/>
<circle cx="336.28" cy="136.89" r="1.25"/>
<circle cx="336.53" cy="134.22" r="1.25"/>
<circle cx="337.49" cy="131.6" r="1.25"/>
<circle cx="337.86" cy="134.37" r="1.25"/>
<circle cx="338.03" cy="136.18" r="1.25"/>
<circle cx="338.12" cy="136.6" r="1.25"/>
<circle cx="338.3" cy="132.5" r="1.25"/>
<circle cx="338.34" cy="134.34" r="1.25"/>
<circle cx="338.59" cy="133.46" r="1.25"/>
<circle cx="339.71" cy="132.75" r="1.25"/>
<circle cx="339.87" cy="134.25" r="1.25"/>
<circle cx="339.9" cy="134.65" r="1.25"/>
<circle cx="339.91" cy="135.64" r="1.25"/>
<circle cx="340.16" cy="138.93" r="1.25"/>
<circle cx="340.19" cy="136.49" r="1.25"/>
<circle cx="340.94" cy="134.15" r="1.25"/>
<circle cx="341.53" cy="134.24" r="1.25"/>
<circle cx="341.55" cy="133.33" r="1.25"/>
<circle cx="341.63" cy="134.15" r="1.25"/>
<circle cx="341.68" cy="133.7" r="1.25"/>
<circle cx="342.12" cy="132.65" r="1.25"/>
<circle cx="342.16" cy="135.25" r="1.25"/>
<circle cx="342.22" cy="134.31" r="1.25"/>
<circle cx="342.25" cy="136.35" r="1.25"/>
<circle cx="342.57" cy="132.3" r="1.25"/>
<circle cx="342.68" cy="133.73" r="1.25"/>
<circle cx="342.73" cy="133.02" r="1.25"/>
<circle cx="343.94" cy="131.18" r="1.25"/>
<circle cx="344.12" cy="131.87" r="1.25"/>
<circle cx="344.24" cy="133.61" r="1.25"/>
<circle cx="345.08" cy="132.14" r="1.25"/>
<circle cx="345.63" cy="135.48" r="1.25"/>
<circle cx="345.65" cy="132.58" r="1.25"/>
<circle cx="346.06" cy="132.95" r="1.25"/>
<circle cx="346.28" cy="135.64" r="1.25"/>
<circle cx="347.21" cy="130.86" r="1.25"/>
<circle cx="347.39" cy="133.99" r="1.25"/>
<circle cx="348.12" cy="131.68" r="1.25"/>
<circle cx="348.3" cy="133.36" r="1.25"/>
<circle cx="348.47" cy="131.13" r="1.25"/>
<circle cx="349.65" cy="130.35" r="1.25"/>
<circle cx="349.69" cy="133.67" r="1.25"/>
<circle cx="350.44" cy="134.54" r="1.25"/>
<circle cx="350.46" cy="132.37" r="1.25"/>
<circle cx="350.74" cy="130.76" r="1.25"/>
<circle cx="351.05" cy="132.56" r="1.25"/>
<circle cx="351.13" cy="132.91" r="1.25"/>
<circle cx="351.4" cy="131.11" r="1.25"/>
<circle cx="351.4" cy="136.15" r="1.25"/>
<circle cx="351.87" cy="132.74" r="1.25"/>
<circle cx="351.88" cy="133.85" r="1.25"/>
<circle cx="351.93" cy="131.23" r="1.25"/>
<circle cx="352.32" cy="132.7" r="1.25"/>
<circle cx="352.48" cy="133.23" r="1.25"/>
<circle cx="353.72" cy="131.6" r="1.25"/>
<circle cx="354.03" cy="133.22" r="1.25"/>
<circle cx="355.28" cy="130.48" r="1.25"/>
<circle cx="355.68" cy="131.36" r="1.25"/>
<circle cx="356.01" cy="130.75" r="1.25"/>
<circle cx="356.05" cy="131.26" r="1.25"/>
<circle cx="356.08" cy="128.72" r="1.25"/>
<circle cx="356.22" cy="130.25" r="1.25"/>
<circle cx="356.24" cy="129.25" r="1.25"/>
<circle cx="356.28" cy="129.31" r="1.25"/>
<circle cx="356.31" cy="131.29" r="1.25"/>
<circle cx="356.39" cy="129.12" r="1.25"/>
<circle cx="356.9" cy="129.24" r="1.25"/>
<circle cx="356.91" cy="129.29" r="1.25"/>
<circle cx="356.94" cy="130.38" r="1.25"/>
<circle cx="357.19" cy="130.32" r="1.25"/>
<circle cx="357.7" cy="128.2" r="1.25"/>
<circle cx="357.78" cy="125.99" r="1.25"/>
<circle cx="357.93" cy="130.6" r="1.25"/>
<circle cx="359.03" cy="127.94" r="1.25"/>
<circle cx="359.1" cy="129.3" r="1.25"/>
<circle cx="359.33" cy="127.39" r="1.25"/>
<circle cx="360.25" cy="127.44" r="1.25"/>
<circle cx="360.39" cy="126.4" r="1.25"/>
<circle cx="360.4" cy="132.37" r="1.25"/>
<circle cx="360.61" cy="128.85" r="1.25"/>
<circle cx="361.05" cy="129.2" r="1.25"/>
<circle cx="361.31" cy="127.68" r="1.25"/>
<circle cx="361.44" cy="128.56" r="1.25"/>
<circle cx="362.38" cy="127.85" r="1.25"/>
<circle cx="362.74" cy="125.56" r="1.25"/>
<circle cx="362.82" cy="123.61" r="1.25"/>
<circle cx="362.96" cy="130.85" r="1.25"/>
<circle cx="363.26" cy="126.75" r="1.25"/>
<circle cx="363.98" cy="125.27" r="1.25"/>
<circle cx="364.66" cy="125.23" r="1.25"/>
<circle cx="364.72" cy="125.73" r="1.25"/>
<circle cx="364.8" cy="127.23" r="1.25"/>
<circle cx="365.54" cy="126" r="1.25"/>
<circle cx="365.84" cy="123.16" r="1.25"/>
<circle cx="366" cy="122.47" r="1.25"/>
<circle cx="366.19" cy="123.82" r="1.25"/>
<circle cx="366.47" cy="125.02" r="1.25"/>
<circle cx="366.52" cy="123.52" r="1.25"/>
<circle cx="366.66" cy="123.9" r="1.25"/>
<circle cx="366.98" cy="122.38" r="1.25"/>
<circle cx="366.99" cy="123.03" r="1.25"/>
<circle cx="367.07" cy="124.09" r="1.25"/>
<circle cx="367.09" cy="122.81" r="1.25"/>
<circle cx="367.64" cy="124.37" r="1.25"/>
<circle cx="368.09" cy="120.75" r="1.25"/>
<circle cx="368.2" cy="120.06" r="1.25"/>
<circle cx="368.27" cy="123.65" r="1.25"/>
<circle cx="368.46" cy="120.93" r="1.25"/>
<circle cx="368.69" cy="122.83" r="1.25"/>
<circle cx="368.95" cy="119.29" r="1.25"/>
<circle cx="369.22" cy="119.17" r="1.25"/>
<circle cx="369.54" cy="120.44" r="1.25"/>
<circle cx="369.74" cy="118.21" r="1.25"/>
<circle cx="370.62" cy="118.79" r="1.25"/>
<circle cx="371.78" cy="116.65" r="1.25"/>
<circle cx="371.89" cy="116.29" r="1.25"/>
<circle cx="372.63" cy="113.93" r="1.25"/>
<circle cx="373.61" cy="111.79" r="1.25"/>
<circle cx="373.85" cy="110.4" r="1.25"/>
<circle cx="373.85" cy="111.59" r="1.25"/>
<circle cx="374.26" cy="108.29" r="1.25"/>
<circle cx="374.53" cy="107.08" r="1.25"/>
<circle cx="374.66" cy="109.04" r="1.25"/>
<circle cx="374.8" cy="110.04" r="1.25"/>
<circle cx="374.98" cy="106.1" r="1.25"/>
<circle cx="375.08" cy="105.12" r="1.25"/>
<circle cx="375.32" cy="106.32" r="1.25"/>
<circle cx="375.39" cy="107.79" r="1.25"/>
<circle cx="375.47" cy="105.07" r="1.25"/>
<circle cx="376.68" cy="98.32" r="1.25"/>
<circle cx="376.83" cy="102.96" r="1.25"/>
<circle cx="377.23" cy="97.65" r="1.25"/>
<circle cx="377.64" cy="97.16" r="1.25"/>
<circle cx="378.06" cy="96.28" r="1.25"/>
<circle cx="378.27" cy="93.3" r="1.25"/>
<circle cx="378.44" cy="95.39" r="1.25"/>
<circle cx="378.57" cy="92.35" r="1.25"/>
<circle cx="378.66" cy="90.38" r="1.25"/>
<circle cx="379.27" cy="89.59" r="1.25"/>
<circle cx="379.39" cy="90.7" r="1.25"/>
<circle cx="379.45" cy="91.85" r="1.25"/>
<circle cx="379.61" cy="90.46" r="1.25"/>
<circle cx="379.65" cy="91.17" r="1.25"/>
<circle cx="379.86" cy="85.02" r="1.25"/>
<circle cx="379.95" cy="87.54" r="1.25"/>
<circle cx="379.97" cy="88.71" r="1.25"/>
<circle cx="380.55" cy="87.04" r="1.25"/>
<circle cx="380.8" cy="85.84" r="1.25"/>
<circle cx="380.95" cy="84.21" r="1.25"/>
<circle cx="381.06" cy="85.32" r="1.25"/>
<circle cx="381.13" cy="80.49" r="1.25"/>
<circle cx="381.57" cy="82.81" r="1.25"/>
<circle cx="381.68" cy="82.49" r="1.25"/>
<circle cx="381.78" cy="80.46" r="1.25"/>
<circle cx="382.67" cy="75.38" r="1.25"/>
<circle cx="382.84" cy="74.9" r="1.25"/>
<circle cx="382.86" cy="77.67" r="1.25"/>
<circle cx="382.9" cy="76.35" r="1.25"/>
<circle cx="383.09" cy="75.76" r="1.25"/>
<circle cx="383.47" cy="73.62" r="1.25"/>
<circle cx="384.28" cy="70.89" r="1.25"/>
<circle cx="384.63" cy="71.47" r="1.25"/>
<circle cx="384.77" cy="71.44" r="1.25"/>
<circle cx="384.78" cy="69.15" r="1.25"/>
<circle cx="384.87" cy="70.94" r="1.25"/>
<circle cx="385.28" cy="65.46" r="1.25"/>
<circle cx="385.7" cy="66.01" r="1.25"/>
<circle cx="386.23" cy="65.93" r="1.25"/>
<circle cx="386.32" cy="64.57" r="1.25"/>
<circle cx="387.31" cy="62.41" r="1.25"/>
<circle cx="387.48" cy="61.44" r="1.25"/>
<circle cx="387.55" cy="59.63" r="1.25"/>
<circle cx="387.61" cy="63.2" r="1.25"/>
<circle cx="387.65" cy="63.78" r="1.25"/>
<circle cx="387.72" cy="60.2" r="1.25"/>
<circle cx="387.73" cy="60.99" r="1.25"/>
<circle cx="387.78" cy="60.36" r="1.25"/>
<circle cx="388.47" cy="58.57" r="1.25"/>
<circle cx="388.78" cy="58.97" r="1.25"/>
<circle cx="389.08" cy="56.92" r="1.25"/>
<circle cx="389.52" cy="58.76" r="1.25"/>
<circle cx="389.6" cy="57.15" r="1.25"/>
<circle cx="389.64" cy="58.46" r="1.25"/>
<circle cx="389.9" cy="58.47" r="1.25"/>
<circle cx="389.96" cy="55.64" r="1.25"/>
<circle cx="390.05" cy="55.56" r="1.25"/>
<circle cx="390.51" cy="58.63" r="1.25"/>
<circle cx="390.79" cy="56.84" r="1.25"/>
<circle cx="390.95" cy="54.36" r="1.25"/>
<circle cx="391.91" cy="51.41" r="1.25"/>
<circle cx="391.94" cy="54.05" r="1.25"/>
<circle cx="392.47" cy="52.38" r="1.25"/>
<circle cx="393.46" cy="52.63" r="1.25"/>
<circle cx="393.85" cy="45.92" r="1.25"/>
<circle cx="394.14" cy="48.65" r="1.25"/>
<circle cx="394.88" cy="46.94" r="1.25"/>
<circle cx="396.1" cy="45.76" r="1.25"/>
<circle cx="396.39" cy="45" r="1.25"/>
<circle cx="396.52" cy="45.35" r="1.25"/>
<circle cx="396.77" cy="46.52" r="1.25"/>
<circle cx="396.82" cy="44.78" r="1.25"/>
<circle cx="397.1" cy="45.5" r="1.25"/>
<circle cx="397.31" cy="43.38" r="1.25"/>
<circle cx="397.39" cy="46.43" r="1.25"/>
<circle cx="397.78" cy="45.69" r="1.25"/>
<circle cx="398.31" cy="43.21" r="1.25"/>
<circle cx="398.51" cy="42" r="1.25"/>
<circle cx="398.54" cy="43.73" r="1.25"/>
<circle cx="400.6" cy="42.49" r="1.25"/>
<circle cx="400.98" cy="41.11" r="1.25"/>
<circle cx="401.07" cy="41.59" r="1.25"/>
<circle cx="401.68" cy="37.18" r="1.25"/>
<circle cx="401.95" cy="38.44" r="1.25"/>
<circle cx="402.08" cy="37.74" r="1.25"/>
<circle cx="402.9" cy="38.48" r="1.25"/>
<circle cx="402.96" cy="39.77" r="1.25"/>
<circle cx="403.19" cy="36.89" r="1.25"/>
<circle cx="403.68" cy="35.75" r="1.25"/>
<circle cx="404.48" cy="36.8" r="1.25"/>
<circle cx="404.52" cy="37.72" r="1.25"/>
<circle cx="404.6" cy="35.94" r="1.25"/>
<circle cx="404.61" cy="38.19" r="1.25"/>
<circle cx="404.77" cy="36.31" r="1.25"/>
<circle cx="404.83" cy="38.57" r="1.25"/>
<circle cx="405.52" cy="38.51" r="1.25"/>
<circle cx="405.56" cy="36.1" r="1.25"/>
<circle cx="406.08" cy="36.15" r="1.25"/>
<circle cx="406.5" cy="33.49" r="1.25"/>
<circle cx="406.53" cy="36.87" r="1.25"/>
<circle cx="406.72" cy="36.31" r="1.25"/>
<circle cx="406.83" cy="38.07" r="1.25"/>
<circle cx="407.37" cy="38.97" r="1.25"/>
<circle cx="407.84" cy="38.67" r="1.25"/>
<circle cx="408.09" cy="35.1" r="1.25"/>
<circle cx="409.52" cy="37.23" r="1.25"/>
<circle cx="409.59" cy="33.64" r="1.25"/>
<circle cx="409.87" cy="33.11" r="1.25"/>
<circle cx="411.2" cy="35.42" r="1.25"/>
<circle cx="411.53" cy="32.31" r="1.25"/>
<circle cx="411.57" cy="34.52" r="1.25"/>
<circle cx="411.57" cy="33.13" r="1.25"/>
<circle cx="411.9" cy="35.13" r="1.25"/>
<circle cx="412.19" cy="33.21" r="1.25"/>
<circle cx="412.24" cy="36.15" r="1.25"/>
<circle cx="412.44" cy="33.66" r="1.25"/>
<circle cx="412.46" cy="35.34" r="1.25"/>
<circle cx="412.98" cy="34.68" r="1.25"/>
<circle cx="413.58" cy="33.33" r="1.25"/>
<circle cx="413.99" cy="33.93" r="1.25"/>
<circle cx="414.14" cy="34.27" r="1.25"/>
<circle cx="414.32" cy="32.98" r="1.25"/>
<circle cx="414.41" cy="32.84" r="1.25"/>
<circle cx="414.71" cy="36.17" r="1.25"/>
<circle cx="415.16" cy="33.05" r="1.25"/>
<circle cx="415.17" cy="32.87" r="1.25"/>
<circle cx="415.22" cy="35.07" r="1.25"/>
<circle cx="415.31" cy="33.29" r="1.25"/>
<circle cx="415.69" cy="35.87" r="1.25"/>
<circle cx="416.4" cy="31.46" r="1.25"/>
<circle cx="416.59" cy="34.04" r="1.25"/>
<circle cx="416.79" cy="33.76" r="1.25"/>
<circle cx="416.86" cy="31.77" r="1.25"/>
<circle cx="417.68" cy="33.74" r="1.25"/>
<circle cx="417.75" cy="32.58" r="1.25"/>
<circle cx="418" cy="35.1" r="1.25"/>
<circle cx="418.71" cy="34.28" r="1.25"/>
<circle cx="419.07" cy="35.52" r="1.25"/>
<circle cx="419.5" cy="33.63" r="1.25"/>
<circle cx="419.58" cy="31.7" r="1.25"/>
<circle cx="419.88" cy="32.92" r="1.25"/>
<circle cx="419.92" cy="31.89" r="1.25"/>
<circle cx="420.14" cy="34.84" r="1.25"/>
<circle cx="420.43" cy="34.58" r="1.25"/>
<circle cx="420.84" cy="33.9" r="1.25"/>
<circle cx="421.78" cy="32.19" r="1.25"/>
<circle cx="421.8" cy="32.53" r="1.25"/>
<circle cx="422.23" cy="33.07" r="1.25"/>
<circle cx="422.28" cy="32.07" r="1.25"/>
<circle cx="422.3" cy="33.27" r="1.25"/>
<circle cx="422.75" cy="33.03" r="1.25"/>
<circle cx="422.99" cy="30.95" r="1.25"/>
<circle cx="423.16" cy="33.87" r="1.25"/>
<circle cx="423.58" cy="32.64" r="1.25"/>
<circle cx="423.67" cy="30.41" r="1.25"/>
<circle cx="423.68" cy="32.76" r="1.25"/>
<circle cx="423.69" cy="31.82" r="1.25"/>
<circle cx="423.69" cy="33.86" r="1.25"/>
<circle cx="424.31" cy="29.82" r="1.25"/>
<circle cx="424.83" cy="36.31" r="1.25"/>
<circle cx="425.06" cy="34.56" r="1.25"/>
<circle cx="425.38" cy="34.41" r="1.25"/>
<circle cx="425.62" cy="30.24" r="1.25"/>
<circle cx="426.1" cy="32.17" r="1.25"/>
<circle cx="426.15" cy="33.12" r="1.25"/>
<circle cx="426.25" cy="34.7" r="1.25"/>
<circle cx="426.3" cy="32.14" r="1.25"/>
<circle cx="426.57" cy="32.51" r="1.25"/>
<circle cx="426.86" cy="33.74" r="1.25"/>
<circle cx="426.86" cy="34.98" r="1.25"/>
<circle cx="427.06" cy="34.36" r="1.25"/>
<circle cx="427.19" cy="32.31" r="1.25"/>
<circle cx="427.5" cy="32.13" r="1.25"/>
<circle cx="427.61" cy="32.49" r="1.25"/>
<circle cx="427.79" cy="32.83" r="1.25"/>
<circle cx="427.95" cy="35.32" r="1.25"/>
<circle cx="428.44" cy="32.47" r="1.25"/>
<circle cx="428.64" cy="34.13" r="1.25"/>
<circle cx="428.83" cy="32.45" r="1.25"/>
<circle cx="429.91" cy="31.71" r="1.25"/>
<circle cx="429.99" cy="33.48" r="1.25"/>
<circle cx="431.08" cy="33.94" r="1.25"/>
<circle cx="431.45" cy="30.78" r="1.25"/>
<circle cx="431.81" cy="31.75" r="1.25"/>
<circle cx="431.9" cy="33.28" r="1.25"/>
<circle cx="432.28" cy="36.93" r="1.25"/>
<circle cx="432.39" cy="32.34" r="1.25"/>
<circle cx="432.41" cy="31.28" r="1.25"/>
<circle cx="433.76" cy="30.43" r="1.25"/>
<circle cx="433.97" cy="33.21" r="1.25"/>
<circle cx="433.98" cy="33.15" r="1.25"/>
<circle cx="434.32" cy="32.82" r="1.25"/>
<circle cx="434.4" cy="30.83" r="1.25"/>
<circle cx="434.48" cy="33.95" r="1.25"/>
<circle cx="434.63" cy="32.29" r="1.25"/>
<circle cx="434.75" cy="33.54" r="1.25"/>
<circle cx="434.78" cy="31.69" r="1.25"/>
<circle cx="434.81" cy="34.51" r="1.25"/>
<circle cx="435.32" cy="31.48" r="1.25"/>
<circle cx="436.18" cy="32.78" r="1.25"/>
<circle cx="436.53" cy="32.34" r="1.25"/>
<circle cx="436.53" cy="31.17" r="1.25"/>
<circle cx="436.59" cy="30.21" r="1.25"/>
<circle cx="436.73" cy="34.61" r="1.25"/>
<circle cx="437.13" cy="30.39" r="1.25"/>
<circle cx="437.74" cy="31.04" r="1.25"/>
<circle cx="438.24" cy="32.33" r="1.25"/>
<circle cx="438.74" cy="29.66" r="1.25"/>
<circle cx="438.82" cy="31.54" r="1.25"/>
<circle cx="439.03" cy="29.81" r="1.25"/>
<circle cx="439.29" cy="32.72" r="1.25"/>
<circle cx="439.33" cy="33.15" r="1.25"/>
<circle cx="439.83" cy="29.86" r="1.25"/>
<circle cx="440.21" cy="28.38" r="1.25"/>
<circle cx="440.33" cy="30.75" r="1.25"/>
<circle cx="440.53" cy="30.33" r="1.25"/>
<circle cx="440.67" cy="32.44" r="1.25"/>
<circle cx="441.08" cy="33.74" r="1.25"/>
<circle cx="441.24" cy="32.02" r="1.25"/>
<circle cx="441.51" cy="29.32" r="1.25"/>
<circle cx="441.73" cy="34.52" r="1.25"/>
<circle cx="441.77" cy="32.4" r="1.25"/>
<circle cx="442.06" cy="34.58" r="1.25"/>
<circle cx="442.39" cy="31.42" r="1.25"/>
<circle cx="442.4" cy="30.23" r="1.25"/>
<circle cx="443.15" cy="33.47" r="1.25"/>
<circle cx="443.59" cy="32.14" r="1.25"/>
<circle cx="443.61" cy="29.45" r="1.25"/>
<circle cx="444.04" cy="31.61" r="1.25"/>
<circle cx="444.2" cy="33.39" r="1.25"/>
<circle cx="444.69" cy="33.48" r="1.25"/>
<circle cx="444.9" cy="34.54" r="1.25"/>
<circle cx="445.26" cy="30.19" r="1.25"/>
<circle cx="445.67" cy="32.52" r="1.25"/>
<circle cx="446.18" cy="29.7" r="1.25"/>
<circle cx="446.61" cy="29.95" r="1.25"/>
<circle cx="446.77" cy="32.31" r="1.25"/>
<circle cx="447.01" cy="32.09" r="1.25"/>
<circle cx="447.11" cy="30.06" r="1.25"/>
<circle cx="447.95" cy="30.97" r="1.25"/>
</g>
<polyline points="321.23,134.7 321.87,134.7 322.51,134.7 323.15,134.69 323.78,134.69 324.42,134.69 325.06,134.68 325.7,134.67 326.33,134.66 326.97,134.65 327.61,134.64 328.24,134.63 328.88,134.62 329.52,134.61 330.16,134.59 330.79,134.58 331.43,134.56 332.07,134.55 332.71,134.53 333.34,134.51 333.98,134.49 334.62,134.47 335.25,134.45 335.89,134.43 336.53,134.41 337.17,134.38 337.8,134.35 338.44,134.31 339.08,134.25 339.72,134.19 340.35,134.12 340.99,134.04 341.63,133.95 342.26,133.85 342.9,133.75 343.54,133.65 344.18,133.53 344.81,133.41 345.45,133.29 346.09,133.16 346.73,133.04 347.36,132.9 348,132.77 348.64,132.63 349.27,132.49 349.91,132.32 350.55,132.14 351.19,131.94 351.82,131.72 352.46,131.5 353.1,131.28 353.74,131.05 354.37,130.81 355.01,130.57 355.65,130.32 356.28,130.05 356.92,129.77 357.56,129.48 358.2,129.18 358.83,128.87 359.47,128.54 360.11,128.2 360.75,127.84 361.38,127.47 362.02,127.08 362.66,126.67 363.29,126.24 363.93,125.79 364.57,125.31 365.21,124.81 365.84,124.27 366.48,123.7 367.12,123.08 367.76,122.41 368.39,121.67 369.03,120.84 369.67,119.88 370.3,118.74 370.94,117.48 371.58,116.11 372.22,114.67 372.85,113.19 373.49,111.6 374.13,109.85 374.76,107.93 375.4,105.75 376.04,103.3 376.68,100.69 377.31,98.03 377.95,95.42 378.59,92.73 379.23,90.03 379.86,87.48 380.5,85.2 381.14,83.08 381.77,80.95 382.41,78.64 383.05,76.14 383.69,73.59 384.32,71.12 384.96,68.77 385.6,66.44 386.24,64.33 386.87,62.63 387.51,61.18 388.15,59.88 388.78,58.69 389.42,57.55 390.06,56.42 390.7,55.27 391.33,54.11 391.97,52.97 392.61,51.86 393.25,50.79 393.88,49.77 394.52,48.83 395.16,47.95 395.79,47.15 396.43,46.39 397.07,45.66 397.71,44.93 398.34,44.19 398.98,43.42 399.62,42.61 400.26,41.81 400.89,41.03 401.53,40.29 402.17,39.62 402.8,39.03 403.44,38.51 404.08,38.01 404.72,37.54 405.35,37.11 405.99,36.72 406.63,36.39 407.27,36.11 407.9,35.88 408.54,35.68 409.18,35.5 409.81,35.33 410.45,35.17 411.09,35 411.73,34.83 412.36,34.65 413,34.47 413.64,34.29 414.28,34.12 414.91,33.97 415.55,33.84 416.19,33.73 416.82,33.63 417.46,33.55 418.1,33.47 418.74,33.39 419.37,33.32 420.01,33.26 420.65,33.19 421.29,33.13 421.92,33.07 422.56,33.01 423.2,32.96 423.83,32.9 424.47,32.85 425.11,32.8 425.75,32.75 426.38,32.7 427.02,32.65 427.66,32.6 428.3,32.55 428.93,32.5 429.57,32.46 430.21,32.41 430.84,32.37 431.48,32.32 432.12,32.28 432.76,32.24 433.39,32.19 434.03,32.15 434.67,32.11 435.31,32.07 435.94,32.03 436.58,31.98 437.22,31.94 437.85,31.9 438.49,31.86 439.13,31.81 439.77,31.77 440.4,31.73 441.04,31.68 441.68,31.64 442.32,31.59 442.95,31.55 443.59,31.51 444.23,31.46 444.86,31.42 445.5,31.38 446.14,31.33 446.78,31.29 447.41,31.24 448.05,31.2" fill="none" stroke="#4612b6" stroke-width="1.8" stroke-linejoin="round" stroke-linecap="round"/>
<polyline points="375.02,107.09 375.82,104.16 376.63,100.91 377.43,97.57 378.23,94.27 379.03,90.86 379.83,87.61 380.63,84.76 381.43,82.1 382.23,79.31 383.04,76.2 383.84,72.99 384.64,69.96 385.44,67.01" fill="none" stroke="#1f8a1f" stroke-width="2.0" stroke-linejoin="round" stroke-linecap="round"/>
<circle cx="380.2" cy="87.3" r="2.8" fill="#2440d0" stroke="#14148c" stroke-width="0.8"/>
<rect x="416" y="61.5" width="57" height="39.5" fill="#ffffff"/>
<text x="471.2" y="72.1" font-size="8.8" text-anchor="end" class="dj">RER= 0.408</text>
<text x="471.2" y="83" font-size="8.8" text-anchor="end" class="dj">SNR= 77.4</text>
<text x="471.2" y="93.4" font-size="8.8" text-anchor="end" class="dj">△DN= 3372</text>
<rect x="285.4" y="20.8" width="191.15" height="124.4" fill="none" stroke="#1a1a1a" stroke-width="1.1"/>
<line x1="295.51" y1="145.2" x2="295.51" y2="141.9" stroke="#1a1a1a" stroke-width="0.9"/>
<text x="295.51" y="157.2" font-size="10.2" text-anchor="middle" class="dj">−8</text>
<line x1="316.77" y1="145.2" x2="316.77" y2="141.9" stroke="#1a1a1a" stroke-width="0.9"/>
<text x="316.77" y="157.2" font-size="10.2" text-anchor="middle" class="dj">−6</text>
<line x1="338.03" y1="145.2" x2="338.03" y2="141.9" stroke="#1a1a1a" stroke-width="0.9"/>
<text x="338.03" y="157.2" font-size="10.2" text-anchor="middle" class="dj">−4</text>
<line x1="359.29" y1="145.2" x2="359.29" y2="141.9" stroke="#1a1a1a" stroke-width="0.9"/>
<text x="359.29" y="157.2" font-size="10.2" text-anchor="middle" class="dj">−2</text>
<line x1="380.55" y1="145.2" x2="380.55" y2="141.9" stroke="#1a1a1a" stroke-width="0.9"/>
<text x="380.55" y="157.2" font-size="10.2" text-anchor="middle" class="dj">0</text>
<line x1="401.81" y1="145.2" x2="401.81" y2="141.9" stroke="#1a1a1a" stroke-width="0.9"/>
<text x="401.81" y="157.2" font-size="10.2" text-anchor="middle" class="dj">2</text>
<line x1="423.07" y1="145.2" x2="423.07" y2="141.9" stroke="#1a1a1a" stroke-width="0.9"/>
<text x="423.07" y="157.2" font-size="10.2" text-anchor="middle" class="dj">4</text>
<line x1="444.33" y1="145.2" x2="444.33" y2="141.9" stroke="#1a1a1a" stroke-width="0.9"/>
<text x="444.33" y="157.2" font-size="10.2" text-anchor="middle" class="dj">6</text>
<line x1="465.59" y1="145.2" x2="465.59" y2="141.9" stroke="#1a1a1a" stroke-width="0.9"/>
<text x="465.59" y="157.2" font-size="10.2" text-anchor="middle" class="dj">8</text>
<line x1="285.4" y1="134.7" x2="288.7" y2="134.7" stroke="#1a1a1a" stroke-width="0.9"/>
<text x="280.4" y="138.7" font-size="10.2" text-anchor="end" class="dj">0.0</text>
<line x1="285.4" y1="114" x2="288.7" y2="114" stroke="#1a1a1a" stroke-width="0.9"/>
<text x="280.4" y="118" font-size="10.2" text-anchor="end" class="dj">0.2</text>
<line x1="285.4" y1="93.3" x2="288.7" y2="93.3" stroke="#1a1a1a" stroke-width="0.9"/>
<text x="280.4" y="97.3" font-size="10.2" text-anchor="end" class="dj">0.4</text>
<line x1="285.4" y1="72.6" x2="288.7" y2="72.6" stroke="#1a1a1a" stroke-width="0.9"/>
<text x="280.4" y="76.6" font-size="10.2" text-anchor="end" class="dj">0.6</text>
<line x1="285.4" y1="51.9" x2="288.7" y2="51.9" stroke="#1a1a1a" stroke-width="0.9"/>
<text x="280.4" y="55.9" font-size="10.2" text-anchor="end" class="dj">0.8</text>
<line x1="285.4" y1="31.2" x2="288.7" y2="31.2" stroke="#1a1a1a" stroke-width="0.9"/>
<text x="280.4" y="35.2" font-size="10.2" text-anchor="end" class="dj">1.0</text>
<text x="380.5" y="13.7" font-size="9.85" text-anchor="middle" class="dj">Edge Spread Function (csaps= 0.95)</text>
<text x="380.5" y="172.8" font-size="10.2" text-anchor="middle" class="dj">Pixel</text>
<text transform="translate(257.3 84.3) rotate(-90)" font-size="10.2" text-anchor="middle" class="dj">n_DN</text>
<rect x="42.05" y="205.6" width="191.35" height="124.5" fill="#ffffff"/>
<line x1="65.82" y1="205.6" x2="65.82" y2="330.1" stroke="#dcdcdc" stroke-width="0.8"/>
<line x1="89.68" y1="205.6" x2="89.68" y2="330.1" stroke="#dcdcdc" stroke-width="0.8"/>
<line x1="113.54" y1="205.6" x2="113.54" y2="330.1" stroke="#dcdcdc" stroke-width="0.8"/>
<line x1="137.4" y1="205.6" x2="137.4" y2="330.1" stroke="#dcdcdc" stroke-width="0.8"/>
<line x1="161.26" y1="205.6" x2="161.26" y2="330.1" stroke="#dcdcdc" stroke-width="0.8"/>
<line x1="185.12" y1="205.6" x2="185.12" y2="330.1" stroke="#dcdcdc" stroke-width="0.8"/>
<line x1="208.98" y1="205.6" x2="208.98" y2="330.1" stroke="#dcdcdc" stroke-width="0.8"/>
<line x1="232.84" y1="205.6" x2="232.84" y2="330.1" stroke="#dcdcdc" stroke-width="0.8"/>
<line x1="42.05" y1="319.2" x2="233.4" y2="319.2" stroke="#dcdcdc" stroke-width="0.8"/>
<line x1="42.05" y1="298.48" x2="233.4" y2="298.48" stroke="#dcdcdc" stroke-width="0.8"/>
<line x1="42.05" y1="277.76" x2="233.4" y2="277.76" stroke="#dcdcdc" stroke-width="0.8"/>
<line x1="42.05" y1="257.04" x2="233.4" y2="257.04" stroke="#dcdcdc" stroke-width="0.8"/>
<line x1="42.05" y1="236.32" x2="233.4" y2="236.32" stroke="#dcdcdc" stroke-width="0.8"/>
<line x1="42.05" y1="215.6" x2="233.4" y2="215.6" stroke="#dcdcdc" stroke-width="0.8"/>
<line x1="70.9" y1="205.6" x2="70.9" y2="330.1" stroke="#1e1eb4" stroke-width="1.3" stroke-dasharray="2.9 1.7"/>
<line x1="212.98" y1="205.6" x2="212.98" y2="330.1" stroke="#1e1eb4" stroke-width="1.3" stroke-dasharray="2.9 1.7"/>
<polyline points="70.9,319.2 71.18,319.2 71.47,319.2 71.75,319.2 72.04,319.2 72.32,319.19 72.61,319.19 72.89,319.19 73.18,319.19 73.46,319.18 73.74,319.18 74.03,319.18 74.31,319.17 74.6,319.17 74.88,319.16 75.17,319.16 75.45,319.15 75.74,319.14 76.02,319.14 76.31,319.13 76.59,319.12 76.87,319.12 77.16,319.11 77.44,319.1 77.73,319.09 78.01,319.09 78.3,319.08 78.58,319.07 78.87,319.06 79.15,319.05 79.43,319.04 79.72,319.03 80,319.02 80.29,319.01 80.57,319 80.86,318.99 81.14,318.98 81.43,318.97 81.71,318.96 82,318.95 82.28,318.94 82.56,318.93 82.85,318.92 83.13,318.9 83.42,318.89 83.7,318.88 83.99,318.87 84.27,318.85 84.56,318.83 84.84,318.82 85.12,318.8 85.41,318.78 85.69,318.75 85.98,318.73 86.26,318.71 86.55,318.68 86.83,318.66 87.12,318.63 87.4,318.6 87.68,318.57 87.97,318.54 88.25,318.51 88.54,318.48 88.82,318.45 89.11,318.42 89.39,318.38 89.68,318.35 89.96,318.32 90.25,318.28 90.53,318.24 90.81,318.21 91.1,318.17 91.38,318.13 91.67,318.08 91.95,318.04 92.24,317.99 92.52,317.95 92.81,317.9 93.09,317.85 93.37,317.79 93.66,317.74 93.94,317.68 94.23,317.62 94.51,317.56 94.8,317.5 95.08,317.43 95.37,317.37 95.65,317.3 95.94,317.22 96.22,317.14 96.5,317.05 96.79,316.96 97.07,316.86 97.36,316.76 97.64,316.65 97.93,316.53 98.21,316.42 98.5,316.3 98.78,316.17 99.06,316.04 99.35,315.91 99.63,315.78 99.92,315.64 100.2,315.5 100.49,315.36 100.77,315.2 101.06,315.04 101.34,314.87 101.62,314.7 101.91,314.52 102.19,314.33 102.48,314.14 102.76,313.94 103.05,313.74 103.33,313.54 103.62,313.33 103.9,313.11 104.19,312.89 104.47,312.66 104.75,312.42 105.04,312.18 105.32,311.93 105.61,311.67 105.89,311.41 106.18,311.14 106.46,310.87 106.75,310.59 107.03,310.31 107.31,310.03 107.6,309.73 107.88,309.42 108.17,309.09 108.45,308.76 108.74,308.42 109.02,308.07 109.31,307.72 109.59,307.38 109.87,307.04 110.16,306.71 110.44,306.4 110.73,306.1 111.01,305.81 111.3,305.54 111.58,305.24 111.87,304.93 112.15,304.63 112.44,304.36 112.72,304.15 113,304.01 113.29,303.97 113.57,303.98 113.86,304.01 114.14,304.04 114.43,304.06 114.71,304.07 115,304.07 115.28,304.07 115.56,304.07 115.85,304.07 116.13,304.07 116.42,303.96 116.7,303.64 116.99,303.21 117.27,302.73 117.56,302.25 117.84,301.67 118.13,301 118.41,300.25 118.69,299.41 118.98,298.36 119.26,297.11 119.55,295.75 119.83,294.43 120.12,293.24 120.4,292.21 120.69,291.28 120.97,290.39 121.25,289.48 121.54,288.51 121.82,287.41 122.11,286.13 122.39,284.64 122.68,282.99 122.96,281.2 123.25,279.32 123.53,277.37 123.81,275.41 124.1,273.45 124.38,271.54 124.67,269.72 124.95,268.02 125.24,266.47 125.52,265.06 125.81,263.71 126.09,262.38 126.38,261.01 126.66,259.6 126.94,258.18 127.23,256.75 127.51,255.32 127.8,253.87 128.08,252.42 128.37,250.97 128.65,249.51 128.94,248.05 129.22,246.6 129.5,245.14 129.79,243.69 130.07,242.25 130.36,240.81 130.64,239.38 130.93,237.96 131.21,236.56 131.5,235.14 131.78,233.66 132.07,232.15 132.35,230.63 132.63,229.12 132.92,227.63 133.2,226.19 133.49,224.81 133.77,223.53 134.06,222.35 134.34,221.3 134.63,220.38 134.91,219.45 135.19,218.52 135.48,217.64 135.76,216.86 136.05,216.22 136.33,215.79 136.62,215.6 136.9,215.69 137.19,216.02 137.47,216.54 137.75,217.21 138.04,218 138.32,218.86 138.61,219.75 138.89,220.64 139.18,221.55 139.46,222.59 139.75,223.76 140.03,225.03 140.32,226.38 140.6,227.81 140.88,229.3 141.17,230.82 141.45,232.37 141.74,233.93 142.02,235.47 142.31,237 142.59,238.57 142.88,240.2 143.16,241.86 143.44,243.57 143.73,245.31 144.01,247.07 144.3,248.85 144.58,250.65 144.87,252.45 145.15,254.25 145.44,256.05 145.72,257.84 146.01,259.61 146.29,261.36 146.57,263.1 146.86,264.85 147.14,266.55 147.43,268.19 147.71,269.85 148,271.32 148.28,272.4 148.57,273.3 148.85,274.09 149.13,274.81 149.42,275.46 149.7,276.07 149.99,276.64 150.27,277.2 150.56,277.76 150.84,278.33 151.13,278.94 151.41,279.55 151.69,280.15 151.98,280.75 152.26,281.33 152.55,281.91 152.83,282.49 153.12,283.05 153.4,283.61 153.69,284.17 153.97,284.72 154.26,285.27 154.54,285.82 154.82,286.36 155.11,286.89 155.39,287.41 155.68,287.92 155.96,288.42 156.25,288.92 156.53,289.42 156.82,289.92 157.1,290.43 157.38,290.94 157.67,291.45 157.95,291.97 158.24,292.51 158.52,293.07 158.81,293.7 159.09,294.36 159.38,295.01 159.66,295.59 159.95,296.06 160.23,296.38 160.51,296.64 160.8,296.86 161.08,297.05 161.37,297.22 161.65,297.37 161.94,297.51 162.22,297.66 162.51,297.83 162.79,298.01 163.07,298.23 163.36,298.49 163.64,298.81 163.93,299.25 164.21,299.79 164.5,300.42 164.78,301.11 165.07,301.84 165.35,302.57 165.63,303.29 165.92,304.03 166.2,304.86 166.49,305.75 166.77,306.65 167.06,307.51 167.34,308.29 167.63,308.95 167.91,309.43 168.2,309.85 168.48,310.25 168.76,310.64 169.05,311 169.33,311.33 169.62,311.62 169.9,311.87 170.19,312.06 170.47,312.19 170.76,312.25 171.04,312.25 171.32,312.19 171.61,312.1 171.89,311.97 172.18,311.82 172.46,311.65 172.75,311.48 173.03,311.31 173.32,311.15 173.6,311.02 173.89,310.91 174.17,310.84 174.45,310.81 174.74,310.83 175.02,310.89 175.31,310.99 175.59,311.12 175.88,311.28 176.16,311.47 176.45,311.68 176.73,311.91 177.01,312.15 177.3,312.4 177.58,312.66 177.87,312.92 178.15,313.18 178.44,313.43 178.72,313.67 179.01,313.9 179.29,314.11 179.57,314.31 179.86,314.48 180.14,314.62 180.43,314.76 180.71,314.9 181,315.04 181.28,315.18 181.57,315.32 181.85,315.46 182.14,315.59 182.42,315.72 182.7,315.84 182.99,315.96 183.27,316.07 183.56,316.18 183.84,316.28 184.13,316.38 184.41,316.46 184.7,316.54 184.98,316.61 185.26,316.67 185.55,316.72 185.83,316.77 186.12,316.81 186.4,316.86 186.69,316.9 186.97,316.94 187.26,316.98 187.54,317.02 187.82,317.06 188.11,317.1 188.39,317.14 188.68,317.17 188.96,317.21 189.25,317.24 189.53,317.28 189.82,317.31 190.1,317.34 190.39,317.37 190.67,317.4 190.95,317.43 191.24,317.46 191.52,317.48 191.81,317.51 192.09,317.53 192.38,317.56 192.66,317.58 192.95,317.6 193.23,317.62 193.51,317.65 193.8,317.66 194.08,317.68 194.37,317.7 194.65,317.72 194.94,317.74 195.22,317.75 195.51,317.77 195.79,317.78 196.08,317.8 196.36,317.81 196.64,317.82 196.93,317.83 197.21,317.84 197.5,317.85 197.78,317.86 198.07,317.87 198.35,317.88 198.64,317.89 198.92,317.9 199.2,317.91 199.49,317.92 199.77,317.93 200.06,317.94 200.34,317.95 200.63,317.95 200.91,317.96 201.2,317.97 201.48,317.98 201.76,317.99 202.05,318 202.33,318 202.62,318.01 202.9,318.02 203.19,318.03 203.47,318.03 203.76,318.04 204.04,318.05 204.33,318.05 204.61,318.06 204.89,318.07 205.18,318.07 205.46,318.08 205.75,318.09 206.03,318.09 206.32,318.1 206.6,318.1 206.89,318.11 207.17,318.11 207.45,318.12 207.74,318.12 208.02,318.13 208.31,318.13 208.59,318.13 208.88,318.14 209.16,318.14 209.45,318.14 209.73,318.15 210.02,318.15 210.3,318.15 210.58,318.16 210.87,318.16 211.15,318.16 211.44,318.16 211.72,318.16 212.01,318.16 212.29,318.16 212.58,318.16 212.86,318.16" fill="none" stroke="#1010dc" stroke-width="2.3" stroke-linejoin="round" stroke-linecap="round"/>
<line x1="131.26" y1="236.32" x2="143.02" y2="236.32" stroke="#c41a1a" stroke-width="1.7"/>
<line x1="124.66" y1="266.99" x2="147.34" y2="266.99" stroke="#c41a1a" stroke-width="1.7"/>
<line x1="120.1" y1="292.78" x2="158.98" y2="292.78" stroke="#c41a1a" stroke-width="1.7"/>
<rect x="162" y="214" width="68" height="49" fill="#ffffff"/>
<text x="227.2" y="226.4" font-size="8.8" text-anchor="end" class="dj">80%= 0.920</text>
<text x="227.2" y="241.3" font-size="8.8" text-anchor="end" class="dj">FWHM= 1.760</text>
<text x="227.2" y="257.3" font-size="8.8" text-anchor="end" class="dj">25%= 3.159</text>
<rect x="42.05" y="205.6" width="191.35" height="124.5" fill="none" stroke="#1a1a1a" stroke-width="1.1"/>
<line x1="41.96" y1="330.1" x2="41.96" y2="326.8" stroke="#1a1a1a" stroke-width="0.9"/>
<text x="41.96" y="342.1" font-size="10.2" text-anchor="middle" class="dj">−8</text>
<line x1="65.82" y1="330.1" x2="65.82" y2="326.8" stroke="#1a1a1a" stroke-width="0.9"/>
<text x="65.82" y="342.1" font-size="10.2" text-anchor="middle" class="dj">−6</text>
<line x1="89.68" y1="330.1" x2="89.68" y2="326.8" stroke="#1a1a1a" stroke-width="0.9"/>
<text x="89.68" y="342.1" font-size="10.2" text-anchor="middle" class="dj">−4</text>
<line x1="113.54" y1="330.1" x2="113.54" y2="326.8" stroke="#1a1a1a" stroke-width="0.9"/>
<text x="113.54" y="342.1" font-size="10.2" text-anchor="middle" class="dj">−2</text>
<line x1="137.4" y1="330.1" x2="137.4" y2="326.8" stroke="#1a1a1a" stroke-width="0.9"/>
<text x="137.4" y="342.1" font-size="10.2" text-anchor="middle" class="dj">0</text>
<line x1="161.26" y1="330.1" x2="161.26" y2="326.8" stroke="#1a1a1a" stroke-width="0.9"/>
<text x="161.26" y="342.1" font-size="10.2" text-anchor="middle" class="dj">2</text>
<line x1="185.12" y1="330.1" x2="185.12" y2="326.8" stroke="#1a1a1a" stroke-width="0.9"/>
<text x="185.12" y="342.1" font-size="10.2" text-anchor="middle" class="dj">4</text>
<line x1="208.98" y1="330.1" x2="208.98" y2="326.8" stroke="#1a1a1a" stroke-width="0.9"/>
<text x="208.98" y="342.1" font-size="10.2" text-anchor="middle" class="dj">6</text>
<line x1="232.84" y1="330.1" x2="232.84" y2="326.8" stroke="#1a1a1a" stroke-width="0.9"/>
<text x="232.84" y="342.1" font-size="10.2" text-anchor="middle" class="dj">8</text>
<line x1="42.05" y1="319.2" x2="45.35" y2="319.2" stroke="#1a1a1a" stroke-width="0.9"/>
<text x="37.05" y="323.2" font-size="10.2" text-anchor="end" class="dj">0.0</text>
<line x1="42.05" y1="298.48" x2="45.35" y2="298.48" stroke="#1a1a1a" stroke-width="0.9"/>
<text x="37.05" y="302.48" font-size="10.2" text-anchor="end" class="dj">0.2</text>
<line x1="42.05" y1="277.76" x2="45.35" y2="277.76" stroke="#1a1a1a" stroke-width="0.9"/>
<text x="37.05" y="281.76" font-size="10.2" text-anchor="end" class="dj">0.4</text>
<line x1="42.05" y1="257.04" x2="45.35" y2="257.04" stroke="#1a1a1a" stroke-width="0.9"/>
<text x="37.05" y="261.04" font-size="10.2" text-anchor="end" class="dj">0.6</text>
<line x1="42.05" y1="236.32" x2="45.35" y2="236.32" stroke="#1a1a1a" stroke-width="0.9"/>
<text x="37.05" y="240.32" font-size="10.2" text-anchor="end" class="dj">0.8</text>
<line x1="42.05" y1="215.6" x2="45.35" y2="215.6" stroke="#1a1a1a" stroke-width="0.9"/>
<text x="37.05" y="219.6" font-size="10.2" text-anchor="end" class="dj">1.0</text>
<text x="137.5" y="199" font-size="9.85" text-anchor="middle" class="dj">Line Spread Function</text>
<text x="136.9" y="357.5" font-size="10.2" text-anchor="middle" class="dj">Pixel</text>
<text transform="translate(13.9 269) rotate(-90)" font-size="10.2" text-anchor="middle" class="dj">n_Value</text>
<rect x="285.3" y="205.6" width="191.2" height="124.35" fill="#ffffff"/>
<line x1="317.4" y1="205.6" x2="317.4" y2="329.95" stroke="#dcdcdc" stroke-width="0.8"/>
<line x1="349.2" y1="205.6" x2="349.2" y2="329.95" stroke="#dcdcdc" stroke-width="0.8"/>
<line x1="381" y1="205.6" x2="381" y2="329.95" stroke="#dcdcdc" stroke-width="0.8"/>
<line x1="412.8" y1="205.6" x2="412.8" y2="329.95" stroke="#dcdcdc" stroke-width="0.8"/>
<line x1="444.6" y1="205.6" x2="444.6" y2="329.95" stroke="#dcdcdc" stroke-width="0.8"/>
<line x1="285.3" y1="305.02" x2="476.5" y2="305.02" stroke="#dcdcdc" stroke-width="0.8"/>
<line x1="285.3" y1="280.14" x2="476.5" y2="280.14" stroke="#dcdcdc" stroke-width="0.8"/>
<line x1="285.3" y1="255.26" x2="476.5" y2="255.26" stroke="#dcdcdc" stroke-width="0.8"/>
<line x1="285.3" y1="230.38" x2="476.5" y2="230.38" stroke="#dcdcdc" stroke-width="0.8"/>
<clipPath id="cm"><rect x="285.3" y="205.6" width="191.2" height="124.35"/></clipPath><g clip-path="url(#cm)">
<polygon points="285.6,329.9 285.6,205.5 286.61,205.56 287.61,205.75 288.62,206.03 289.63,206.41 290.63,206.86 291.64,207.37 292.64,207.92 293.65,208.5 294.66,209.1 295.66,209.82 296.67,210.73 297.68,211.81 298.68,213.01 299.69,214.3 300.69,215.64 301.7,216.99 302.71,218.37 303.71,219.87 304.72,221.47 305.73,223.14 306.73,224.85 307.74,226.59 308.75,228.32 309.75,230.03 310.76,231.81 311.76,233.63 312.77,235.45 313.78,237.25 314.78,238.98 315.79,240.63 316.8,242.22 317.8,243.76 318.81,245.27 319.82,246.75 320.82,248.22 321.83,249.67 322.83,251.13 323.84,252.59 324.85,254.05 325.85,255.5 326.86,256.94 327.87,258.36 328.87,259.77 329.88,261.15 330.88,262.5 331.89,263.85 332.9,265.17 333.9,266.48 334.91,267.76 335.92,269.01 336.92,270.23 337.93,271.42 338.94,272.59 339.94,273.73 340.95,274.84 341.95,275.94 342.96,277.01 343.97,278.05 344.97,279.08 345.98,280.08 346.99,281.06 347.99,282.01 349,282.94 350.01,283.85 351.01,284.73 352.02,285.59 353.02,286.44 354.03,287.27 355.04,288.09 356.04,288.91 357.05,289.71 358.06,290.51 359.06,291.29 360.07,292.07 361.07,292.84 362.08,293.62 363.09,294.4 364.09,295.16 365.1,295.88 365.1,329.9" fill="rgba(0,0,150,0.4)"/>
<polygon points="365.1,329.9 365.1,295.88 366.11,296.55 367.11,297.21 368.12,297.85 369.13,298.47 370.13,299.07 371.14,299.65 372.14,300.22 373.15,300.76 374.16,301.28 375.16,301.78 376.17,302.27 377.18,302.74 378.18,303.19 379.19,303.63 380.19,304.06 381.2,304.48 382.21,304.9 383.21,305.31 384.22,305.72 385.23,306.12 386.23,306.52 387.24,306.91 388.25,307.29 389.25,307.66 390.26,308.01 391.26,308.36 392.27,308.68 393.28,308.99 394.28,309.29 395.29,309.57 396.3,309.85 397.3,310.12 398.31,310.38 399.32,310.63 400.32,310.88 401.33,311.12 402.33,311.36 403.34,311.59 404.35,311.82 405.35,312.04 406.36,312.26 407.37,312.48 408.37,312.69 409.38,312.9 410.38,313.11 411.39,313.32 412.4,313.52 413.4,313.73 414.41,313.93 415.42,314.12 416.42,314.31 417.43,314.5 418.44,314.68 419.44,314.86 420.45,315.04 421.45,315.21 422.46,315.39 423.47,315.56 424.47,315.74 425.48,315.91 426.49,316.09 427.49,316.27 428.5,316.45 429.51,316.63 430.51,316.81 431.52,317 432.52,317.19 433.53,317.39 434.54,317.58 435.54,317.78 436.55,317.97 437.56,318.17 438.56,318.36 439.57,318.55 440.57,318.74 441.58,318.92 442.59,319.1 443.59,319.28 444.6,319.45 444.6,329.9" fill="rgba(18,18,108,0.63)"/>
<line x1="365.1" y1="205.6" x2="365.1" y2="329.95" stroke="#1010dc" stroke-width="2.1" stroke-dasharray="7.5 3.5" stroke-dashoffset="-1.7"/>
<line x1="444.6" y1="264" x2="444.6" y2="329.95" stroke="#1010dc" stroke-width="2.1" stroke-dasharray="7.5 3.5" stroke-dashoffset="-1.7"/>
<polyline points="285.6,205.5 286.56,205.56 287.52,205.72 288.48,205.99 289.44,206.33 290.39,206.75 291.35,207.22 292.31,207.73 293.27,208.28 294.23,208.85 295.19,209.45 296.15,210.23 297.11,211.18 298.06,212.26 299.02,213.44 299.98,214.69 300.94,215.97 301.9,217.26 302.86,218.59 303.82,220.03 304.78,221.56 305.73,223.15 306.69,224.78 307.65,226.44 308.61,228.09 309.57,229.72 310.53,231.4 311.49,233.12 312.45,234.86 313.41,236.59 314.36,238.27 315.32,239.88 316.28,241.41 317.24,242.9 318.2,244.36 319.16,245.79 320.12,247.19 321.08,248.59 322.03,249.97 322.99,251.36 323.95,252.75 324.91,254.14 325.87,255.52 326.83,256.89 327.79,258.25 328.75,259.59 329.7,260.91 330.66,262.21 331.62,263.49 332.58,264.76 333.54,266.01 334.5,267.24 335.46,268.45 336.42,269.62 337.37,270.77 338.33,271.89 339.29,272.99 340.25,274.07 341.21,275.13 342.17,276.17 343.13,277.18 344.09,278.18 345.05,279.15 346,280.1 346.96,281.04 347.92,281.95 348.88,282.83 349.84,283.7 350.8,284.54 351.76,285.37 352.72,286.18 353.67,286.97 354.63,287.76 355.59,288.54 356.55,289.32 357.51,290.08 358.47,290.83 359.43,291.57 360.39,292.31 361.34,293.05 362.3,293.79 363.26,294.54 364.22,295.26 365.18,295.93 366.14,296.57 367.1,297.2 368.06,297.81 369.02,298.4 369.97,298.98 370.93,299.53 371.89,300.08 372.85,300.6 373.81,301.1 374.77,301.59 375.73,302.06 376.69,302.51 377.64,302.95 378.6,303.38 379.56,303.79 380.52,304.2 381.48,304.6 382.44,304.99 383.4,305.39 384.36,305.78 385.31,306.16 386.27,306.54 387.23,306.91 388.19,307.27 389.15,307.62 390.11,307.96 391.07,308.29 392.03,308.61 392.98,308.91 393.94,309.19 394.9,309.46 395.86,309.73 396.82,309.99 397.78,310.24 398.74,310.49 399.7,310.73 400.66,310.96 401.61,311.19 402.57,311.42 403.53,311.64 404.49,311.85 405.45,312.06 406.41,312.27 407.37,312.48 408.33,312.68 409.28,312.88 410.24,313.08 411.2,313.28 412.16,313.47 413.12,313.67 414.08,313.86 415.04,314.05 416,314.23 416.95,314.41 417.91,314.58 418.87,314.76 419.83,314.93 420.79,315.1 421.75,315.26 422.71,315.43 423.67,315.6 424.63,315.76 425.58,315.93 426.54,316.1 427.5,316.27 428.46,316.44 429.42,316.61 430.38,316.79 431.34,316.97 432.3,317.15 433.25,317.33 434.21,317.52 435.17,317.71 436.13,317.89 437.09,318.08 438.05,318.26 439.01,318.45 439.97,318.63 440.92,318.8 441.88,318.98 442.84,319.15 443.8,319.32 444.76,319.48 445.72,319.63 446.68,319.79 447.64,319.94 448.59,320.09 449.55,320.23 450.51,320.38 451.47,320.52 452.43,320.66 453.39,320.8 454.35,320.93 455.31,321.07 456.27,321.21 457.22,321.34 458.18,321.48 459.14,321.62 460.1,321.76 461.06,321.89 462.02,322.03 462.98,322.17 463.94,322.31 464.89,322.45 465.85,322.58 466.81,322.72 467.77,322.85 468.73,322.99 469.69,323.12 470.65,323.26 471.61,323.39 472.56,323.52 473.52,323.66 474.48,323.79 475.44,323.92 476.4,324.05" fill="none" stroke="#1414d8" stroke-width="2.2" stroke-linejoin="round" stroke-linecap="round"/>
<circle cx="365.1" cy="295.88" r="2.6" fill="none" stroke="#e01030" stroke-width="0.9"/>
<circle cx="444.6" cy="319.45" r="2.6" fill="none" stroke="#e01030" stroke-width="0.9"/>
</g>
<rect x="384" y="206.5" width="90" height="55.5" fill="#ffffff"/>
<text x="469.6" y="217" font-size="8.7" text-anchor="end" class="dj">Nyquist= 8.742%</text>
<text x="469.6" y="230" font-size="8.7" text-anchor="end" class="dj">M(0.25)= 26.978%</text>
<text x="469.6" y="242.6" font-size="8.7" text-anchor="end" class="dj">A(0-0.5)= 0.196</text>
<text x="469.6" y="255.6" font-size="8.7" text-anchor="end" class="dj">A(0.25-0.5)= 0.038</text>
<rect x="285.3" y="205.6" width="191.2" height="124.35" fill="none" stroke="#1a1a1a" stroke-width="1.1"/>
<line x1="285.6" y1="329.95" x2="285.6" y2="326.65" stroke="#1a1a1a" stroke-width="0.9"/>
<text x="285.6" y="341.95" font-size="10.2" text-anchor="middle" class="dj">0.0</text>
<line x1="317.4" y1="329.95" x2="317.4" y2="326.65" stroke="#1a1a1a" stroke-width="0.9"/>
<text x="317.4" y="341.95" font-size="10.2" text-anchor="middle" class="dj">0.1</text>
<line x1="349.2" y1="329.95" x2="349.2" y2="326.65" stroke="#1a1a1a" stroke-width="0.9"/>
<text x="349.2" y="341.95" font-size="10.2" text-anchor="middle" class="dj">0.2</text>
<line x1="381" y1="329.95" x2="381" y2="326.65" stroke="#1a1a1a" stroke-width="0.9"/>
<text x="381" y="341.95" font-size="10.2" text-anchor="middle" class="dj">0.3</text>
<line x1="412.8" y1="329.95" x2="412.8" y2="326.65" stroke="#1a1a1a" stroke-width="0.9"/>
<text x="412.8" y="341.95" font-size="10.2" text-anchor="middle" class="dj">0.4</text>
<line x1="444.6" y1="329.95" x2="444.6" y2="326.65" stroke="#1a1a1a" stroke-width="0.9"/>
<text x="444.6" y="341.95" font-size="10.2" text-anchor="middle" class="dj">0.5</text>
<line x1="476.4" y1="329.95" x2="476.4" y2="326.65" stroke="#1a1a1a" stroke-width="0.9"/>
<text x="476.4" y="341.95" font-size="10.2" text-anchor="middle" class="dj">0.6</text>
<line x1="285.3" y1="329.9" x2="288.6" y2="329.9" stroke="#1a1a1a" stroke-width="0.9"/>
<text x="280.3" y="333.9" font-size="10.2" text-anchor="end" class="dj">0.0</text>
<line x1="285.3" y1="305.02" x2="288.6" y2="305.02" stroke="#1a1a1a" stroke-width="0.9"/>
<text x="280.3" y="309.02" font-size="10.2" text-anchor="end" class="dj">0.2</text>
<line x1="285.3" y1="280.14" x2="288.6" y2="280.14" stroke="#1a1a1a" stroke-width="0.9"/>
<text x="280.3" y="284.14" font-size="10.2" text-anchor="end" class="dj">0.4</text>
<line x1="285.3" y1="255.26" x2="288.6" y2="255.26" stroke="#1a1a1a" stroke-width="0.9"/>
<text x="280.3" y="259.26" font-size="10.2" text-anchor="end" class="dj">0.6</text>
<line x1="285.3" y1="230.38" x2="288.6" y2="230.38" stroke="#1a1a1a" stroke-width="0.9"/>
<text x="280.3" y="234.38" font-size="10.2" text-anchor="end" class="dj">0.8</text>
<line x1="285.3" y1="205.5" x2="288.6" y2="205.5" stroke="#1a1a1a" stroke-width="0.9"/>
<text x="280.3" y="209.5" font-size="10.2" text-anchor="end" class="dj">1.0</text>
<text x="380.8" y="199" font-size="9.85" text-anchor="middle" class="dj">MTF Curve</text>
<text x="380.5" y="357.5" font-size="10.2" text-anchor="middle" class="dj">n_Frequency</text>
<text transform="translate(257.3 269) rotate(-90)" font-size="10.2" text-anchor="middle" class="dj">n_Value</text>
<path d="M316.6,67.3 H353.9 Q357.5,67.3 357.5,70.9 V80 L374.8,87.3 L357.5,86.2 V86.3 Q357.5,89.9 353.9,89.9 H316.6 Q313,89.9 313,86.3 V70.9 Q313,67.3 316.6,67.3 Z" fill="#ffffff" stroke="#ee0a12" stroke-width="1.9" stroke-linejoin="round"/>
<path d="M59.6,249.2 H104.5 Q108.1,249.2 108.1,252.8 V262 L120.9,266.5 L108.1,267.8 V268.1 Q108.1,271.7 104.5,271.7 H59.6 Q56,271.7 56,268.1 V252.8 Q56,249.2 59.6,249.2 Z" fill="#ffffff" stroke="#ee0a12" stroke-width="1.9" stroke-linejoin="round"/>
<path d="M332.4,303.1 H369.7 Q373.3,303.1 373.3,306.7 V314 L373.3,314.2 L373.3,314.4 V321.7 Q373.3,325.3 369.7,325.3 H332.4 Q328.8,325.3 328.8,321.7 V306.7 Q328.8,303.1 332.4,303.1 Z" fill="#ffffff" stroke="#ee0a12" stroke-width="1.9" stroke-linejoin="round"/>
<path d="M497.9,291.5 H538.9 Q542.5,291.5 542.5,295.1 V310.1 Q542.5,313.7 538.9,313.7 H497.9 Q494.3,313.7 494.3,310.1 V310.2 L448.4,315.5 L494.3,304.2 V295.1 Q494.3,291.5 497.9,291.5 Z" fill="#ffffff" stroke="#ee0a12" stroke-width="1.9" stroke-linejoin="round"/>
<path d="M499.6,360.8 H540.2 Q543.8,360.8 543.8,364.4 V379 Q543.8,382.6 540.2,382.6 H499.6 Q496,382.6 496,379 V379 L479.2,375.9 L496,373.4 V364.4 Q496,360.8 499.6,360.8 Z" fill="#ffffff" stroke="#ee0a12" stroke-width="1.9" stroke-linejoin="round"/>
<path d="M500.4,408.8 H536.9 Q540.5,408.8 540.5,412.4 V427 Q540.5,430.6 536.9,430.6 H500.4 Q496.8,430.6 496.8,427 V417.8 L383.1,413.3 L496.8,412.4 V412.4 Q496.8,408.8 500.4,408.8 Z" fill="#ffffff" stroke="#ee0a12" stroke-width="1.9" stroke-linejoin="round"/>
<ellipse cx="431.2" cy="234.6" rx="54.8" ry="37.6" fill="none" stroke="#ee0a12" stroke-width="1.5" stroke-dasharray="6.5 4"/>
<polygon points="472.5,198.4 471.1,185.6 475.2,189.5 488.8,170 495.9,175.3 481.7,194.7 486.1,196.9" fill="#ffffff" stroke="#f4b400" stroke-width="1.4" stroke-linejoin="miter"/>
<polygon points="162.2,400.5 184.5,400.5 184.5,395.4 194.5,404.5 184.5,413.5 184.5,408.3 162.2,408.3" fill="#ffffff" stroke="#f4b400" stroke-width="1.4" stroke-linejoin="miter"/>
<text y="409.2" font-size="13.4" class="ls bl" fill="#1a1ad2"><tspan x="128.4" textLength="26.49" lengthAdjust="spacingAndGlyphs">MTF</tspan></text>
<circle cx="204.2" cy="374.7" r="2.1" fill="#1a1ad2"/>
<text y="380.6" font-size="13.6" class="ls bl" fill="#1a1ad2"><tspan x="223.3" textLength="42.65" lengthAdjust="spacingAndGlyphs">MTF50</tspan> <tspan x="269.38" textLength="7.55" lengthAdjust="spacingAndGlyphs">=</tspan> <tspan x="280.35" textLength="27.3" lengthAdjust="spacingAndGlyphs">MTF</tspan> <tspan x="311.07" textLength="33.07" lengthAdjust="spacingAndGlyphs">value</tspan> <tspan x="347.57" textLength="12.33" lengthAdjust="spacingAndGlyphs">at</tspan> <tspan x="363.33" textLength="47.03" lengthAdjust="spacingAndGlyphs">Nyquist</tspan> <tspan x="413.78" textLength="62.12" lengthAdjust="spacingAndGlyphs">frequency</tspan></text>
<circle cx="204.2" cy="393.3" r="2.1" fill="#1a1ad2"/>
<text y="399.2" font-size="13.6" class="ls bl" fill="#1a1ad2"><tspan x="223.3" textLength="63.34" lengthAdjust="spacingAndGlyphs">MTF(0.25)</tspan> <tspan x="290.07" textLength="7.55" lengthAdjust="spacingAndGlyphs">=</tspan> <tspan x="301.04" textLength="27.3" lengthAdjust="spacingAndGlyphs">MTF</tspan> <tspan x="331.76" textLength="33.07" lengthAdjust="spacingAndGlyphs">value</tspan> <tspan x="368.26" textLength="12.33" lengthAdjust="spacingAndGlyphs">at</tspan> <tspan x="384.02" textLength="7.26" lengthAdjust="spacingAndGlyphs">a</tspan> <tspan x="394.7" textLength="48.42" lengthAdjust="spacingAndGlyphs">Quarter</tspan> <tspan x="446.55" textLength="62.12" lengthAdjust="spacingAndGlyphs">frequency</tspan></text>
<circle cx="204.2" cy="411.7" r="2.1" fill="#1a1ad2"/>
<text y="417.6" font-size="13.6" class="ls bl" fill="#1a1ad2"><tspan x="223.3" textLength="36.06" lengthAdjust="spacingAndGlyphs">MTFA</tspan> <tspan x="262.79" textLength="7.55" lengthAdjust="spacingAndGlyphs">=</tspan> <tspan x="273.76" textLength="28.84" lengthAdjust="spacingAndGlyphs">Area</tspan> <tspan x="306.03" textLength="30" lengthAdjust="spacingAndGlyphs">from</tspan> <tspan x="339.45" textLength="34.41" lengthAdjust="spacingAndGlyphs">0~0.5</tspan></text>
<circle cx="204.2" cy="430.1" r="2.1" fill="#1a1ad2"/>
<text y="436" font-size="13.6" class="ls bl" fill="#1a1ad2"><tspan x="223.3" textLength="98.84" lengthAdjust="spacingAndGlyphs">MTFA(0.25~0.5)</tspan> <tspan x="325.56" textLength="7.55" lengthAdjust="spacingAndGlyphs">=</tspan> <tspan x="336.53" textLength="28.84" lengthAdjust="spacingAndGlyphs">Area</tspan> <tspan x="368.8" textLength="30" lengthAdjust="spacingAndGlyphs">from</tspan> <tspan x="402.22" textLength="53.59" lengthAdjust="spacingAndGlyphs">0.25~0.5</tspan></text>
<text x="326.2" y="82.25" font-size="10.1" class="ls cl" fill="#262626" textLength="18.1" lengthAdjust="spacingAndGlyphs">RER</text>
<text x="65.79" y="264.1" font-size="10.1" class="ls cl" fill="#262626" textLength="32.52" lengthAdjust="spacingAndGlyphs">FWHM</text>
<text x="337.36" y="317.85" font-size="10.1" class="ls cl" fill="#262626" textLength="27.37" lengthAdjust="spacingAndGlyphs">MTFA</text>
<text x="502.21" y="306.25" font-size="10.1" class="ls cl" fill="#262626" textLength="32.38" lengthAdjust="spacingAndGlyphs">MTF50</text>
<text x="503.71" y="375.35" font-size="10.1" class="ls cl" fill="#262626" textLength="32.38" lengthAdjust="spacingAndGlyphs">MTF50</text>
<text x="504.96" y="423.35" font-size="10.1" class="ls cl" fill="#262626" textLength="27.37" lengthAdjust="spacingAndGlyphs">MTFA</text>
</svg>
</body></html>
